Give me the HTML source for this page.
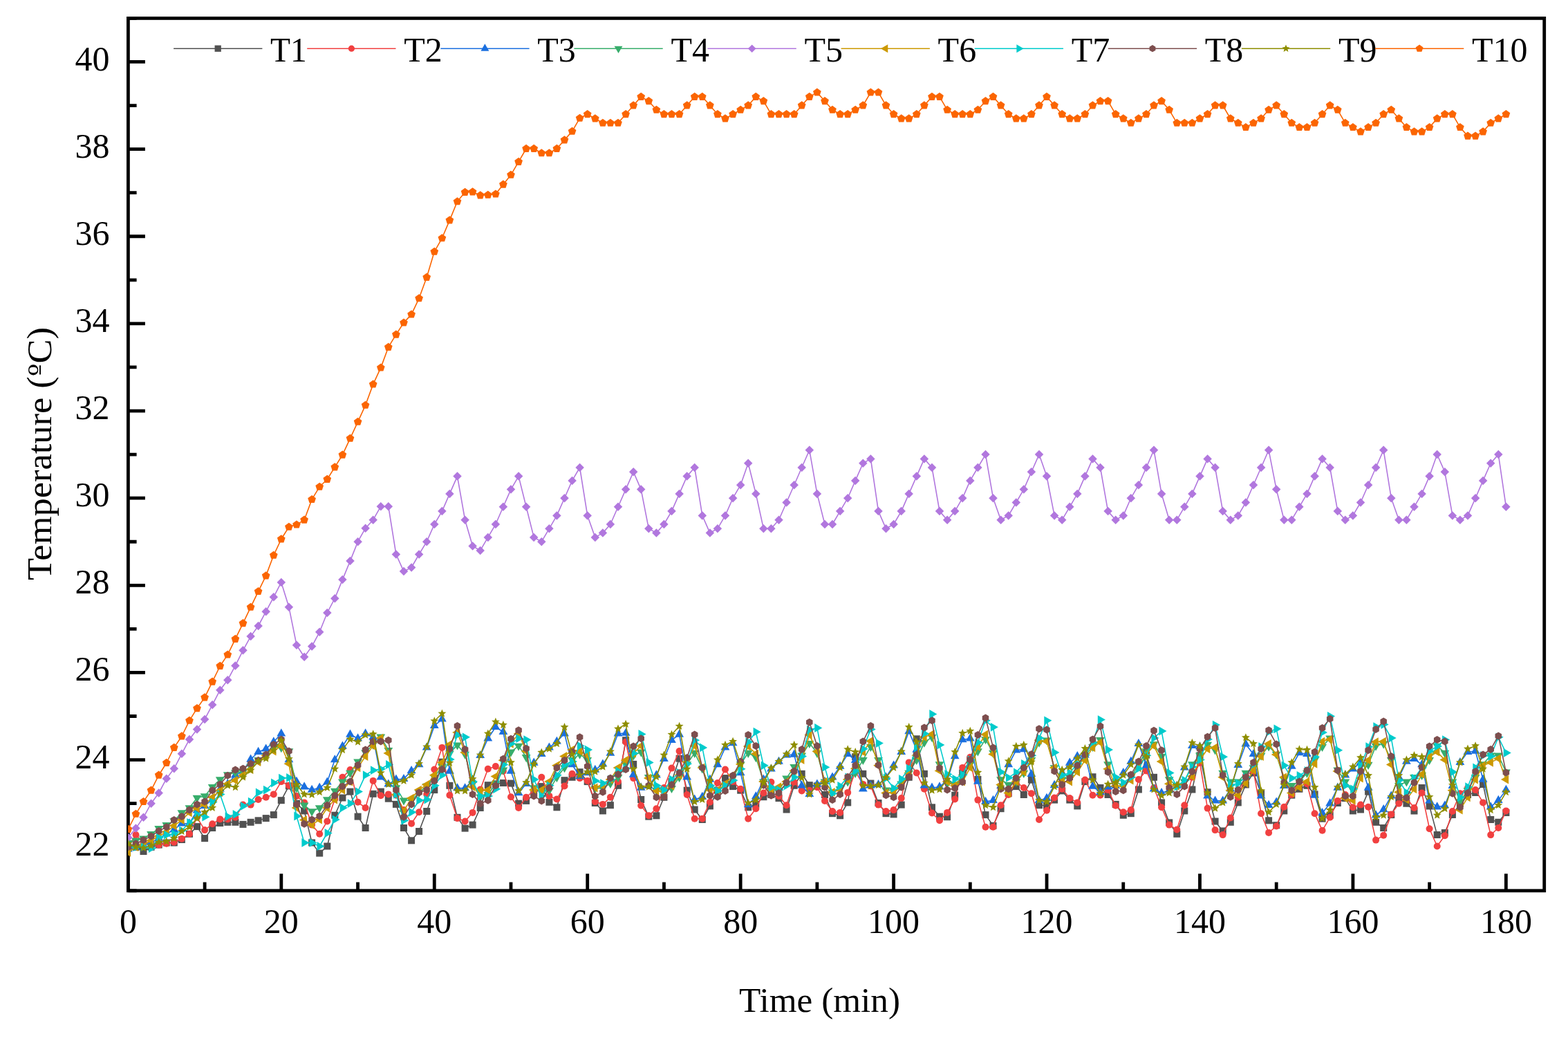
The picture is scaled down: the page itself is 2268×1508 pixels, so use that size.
<!DOCTYPE html>
<html><head><meta charset="utf-8"><title>Temperature chart</title>
<style>html,body{margin:0;padding:0;background:#fff;}svg{display:block;}</style>
</head><body>
<svg width="2268" height="1508" viewBox="0 0 2268 1508">
<defs>
<path id="m0" d="M-5.00,-5.00h10.00v10.00h-10.00z"/>
<path id="lm0" d="M-4.65,-4.65h9.30v9.30h-9.30z"/>
<path id="m1" d="M-5.00,0a5.00,5.00 0 1,0 10.00,0a5.00,5.00 0 1,0 -10.00,0z"/>
<path id="lm1" d="M-4.65,0a4.65,4.65 0 1,0 9.30,0a4.65,4.65 0 1,0 -9.30,0z"/>
<path id="m2" d="M0.00,-7.40L6.41,3.70L-6.41,3.70z"/>
<path id="lm2" d="M0.00,-6.88L5.96,3.44L-5.96,3.44z"/>
<path id="m3" d="M0.00,7.40L-6.41,-3.70L6.41,-3.70z"/>
<path id="lm3" d="M0.00,6.88L-5.96,-3.44L5.96,-3.44z"/>
<path id="m4" d="M0,-6.25L6.25,0L0,6.25L-6.25,0z"/>
<path id="lm4" d="M0,-5.81L5.81,0L0,5.81L-5.81,0z"/>
<path id="m5" d="M-7.40,0.00L3.70,-6.41L3.70,6.41z"/>
<path id="lm5" d="M-6.88,0.00L3.44,-5.96L3.44,5.96z"/>
<path id="m6" d="M7.40,0.00L-3.70,6.41L-3.70,-6.41z"/>
<path id="lm6" d="M6.88,0.00L-3.44,5.96L-3.44,-5.96z"/>
<path id="m7" d="M0.00,-5.50L4.76,-2.75L4.76,2.75L0.00,5.50L-4.76,2.75L-4.76,-2.75z"/>
<path id="lm7" d="M0.00,-5.12L4.43,-2.56L4.43,2.56L0.00,5.12L-4.43,2.56L-4.43,-2.56z"/>
<path id="m8" d="M0.00,-6.25L1.65,-2.28L5.94,-1.93L2.67,0.87L3.67,5.06L0.00,2.81L-3.67,5.06L-2.67,0.87L-5.94,-1.93L-1.65,-2.28z"/>
<path id="lm8" d="M0.00,-5.81L1.54,-2.12L5.53,-1.80L2.49,0.81L3.42,4.70L0.00,2.62L-3.42,4.70L-2.49,0.81L-5.53,-1.80L-1.54,-2.12z"/>
<path id="m9" d="M0.00,-6.15L5.85,-1.90L3.61,4.98L-3.61,4.98L-5.85,-1.90z"/>
<path id="lm9" d="M0.00,-5.72L5.44,-1.77L3.36,4.63L-3.36,4.63L-5.44,-1.77z"/>
</defs>
<rect width="100%" height="100%" fill="#fff"/>
<rect x="185.40" y="26.40" width="2048.32" height="1261.40" fill="none" stroke="#000" stroke-width="4.8"/>
<path d="M185.40,1287.80h12.2 M185.40,1224.73h24.5 M185.40,1161.66h12.2 M185.40,1098.59h24.5 M185.40,1035.52h12.2 M185.40,972.45h24.5 M185.40,909.38h12.2 M185.40,846.31h24.5 M185.40,783.24h12.2 M185.40,720.17h24.5 M185.40,657.10h12.2 M185.40,594.03h24.5 M185.40,530.96h12.2 M185.40,467.89h24.5 M185.40,404.82h12.2 M185.40,341.75h24.5 M185.40,278.68h12.2 M185.40,215.61h24.5 M185.40,152.54h12.2 M185.40,89.47h24.5 M185.40,26.40h12.2 M185.40,1287.80v-24.5 M296.12,1287.80v-12.2 M406.84,1287.80v-24.5 M517.56,1287.80v-12.2 M628.28,1287.80v-24.5 M739.00,1287.80v-12.2 M849.72,1287.80v-24.5 M960.44,1287.80v-12.2 M1071.16,1287.80v-24.5 M1181.88,1287.80v-12.2 M1292.60,1287.80v-24.5 M1403.32,1287.80v-12.2 M1514.04,1287.80v-24.5 M1624.76,1287.80v-12.2 M1735.48,1287.80v-24.5 M1846.20,1287.80v-12.2 M1956.92,1287.80v-24.5 M2067.64,1287.80v-12.2 M2178.36,1287.80v-24.5" stroke="#000" stroke-width="4.8" fill="none"/>
<clipPath id="pa"><rect x="185.2" y="26.4" width="2048.4" height="1261.4"/></clipPath><g clip-path="url(#pa)">
<path d="M185.4,1224.7 196.5,1224.7 207.5,1231.0 218.6,1224.7 229.7,1221.6 240.8,1218.4 251.8,1218.4 262.9,1214.0 274.0,1205.8 285.0,1195.1 296.1,1212.1 307.2,1197.0 318.3,1190.0 329.3,1188.8 340.4,1188.8 351.5,1191.9 362.6,1188.8 373.6,1186.3 384.7,1183.1 395.8,1178.1 406.8,1157.2 417.9,1136.4 429.0,1161.7 440.1,1172.4 451.1,1218.4 462.2,1233.6 473.3,1223.5 484.3,1178.7 495.4,1153.5 506.5,1144.6 517.6,1180.6 528.6,1197.0 539.7,1147.8 550.8,1144.6 561.8,1154.7 572.9,1162.9 584.0,1197.0 595.1,1215.3 606.1,1202.0 617.2,1173.0 628.3,1142.1 639.4,1101.7 650.4,1135.8 661.5,1181.8 672.6,1197.6 683.6,1192.6 694.7,1168.0 705.8,1135.2 716.9,1133.3 727.9,1132.0 739.0,1132.6 750.1,1161.7 761.1,1157.9 772.2,1149.0 783.3,1137.1 794.4,1159.8 805.4,1167.3 816.5,1128.2 827.6,1123.8 838.6,1116.2 849.7,1130.1 860.8,1161.0 871.9,1172.4 882.9,1164.2 894.0,1135.8 905.1,1070.2 916.2,1104.9 927.2,1156.0 938.3,1180.6 949.4,1179.3 960.4,1152.8 971.5,1130.1 982.6,1096.7 993.7,1142.7 1004.7,1170.5 1015.8,1185.0 1026.9,1165.4 1037.9,1142.7 1049.0,1125.1 1060.1,1137.1 1071.2,1142.7 1082.2,1167.3 1093.3,1162.9 1104.4,1152.2 1115.4,1149.0 1126.5,1154.1 1137.6,1170.5 1148.7,1135.8 1159.7,1118.8 1170.8,1135.2 1181.9,1136.4 1193.0,1149.0 1204.0,1176.2 1215.1,1179.3 1226.2,1160.4 1237.2,1094.2 1248.3,1118.8 1259.4,1132.6 1270.5,1161.0 1281.5,1176.2 1292.6,1177.4 1303.7,1163.6 1314.7,1123.8 1325.8,1068.3 1336.9,1118.8 1348.0,1167.3 1359.0,1180.6 1370.1,1181.2 1381.2,1149.7 1392.2,1117.5 1403.3,1098.6 1414.4,1127.0 1425.5,1178.1 1436.5,1193.8 1447.6,1169.2 1458.7,1147.2 1469.8,1137.1 1480.8,1149.0 1491.9,1127.6 1503.0,1164.2 1514.0,1164.8 1525.1,1156.6 1536.2,1143.4 1547.3,1156.6 1558.3,1165.4 1569.4,1130.1 1580.5,1123.2 1591.5,1139.0 1602.6,1149.0 1613.7,1162.9 1624.8,1178.7 1635.8,1176.2 1646.9,1141.5 1658.0,1091.7 1669.0,1123.8 1680.1,1160.4 1691.2,1189.4 1702.3,1205.8 1713.3,1172.4 1724.4,1141.5 1735.5,1092.3 1746.6,1145.3 1757.6,1187.5 1768.7,1201.4 1779.8,1188.8 1790.8,1160.4 1801.9,1134.5 1813.0,1117.5 1824.1,1147.2 1835.1,1186.3 1846.2,1193.2 1857.3,1172.4 1868.3,1149.7 1879.4,1140.8 1890.5,1135.8 1901.6,1148.4 1912.6,1183.7 1923.7,1178.7 1934.8,1161.0 1945.8,1154.1 1956.9,1172.4 1968.0,1170.5 1979.1,1144.6 1990.1,1188.8 2001.2,1197.0 2012.3,1178.1 2023.4,1156.6 2034.4,1161.7 2045.5,1172.4 2056.6,1139.0 2067.6,1165.4 2078.7,1207.1 2089.8,1203.9 2100.9,1178.1 2111.9,1161.7 2123.0,1149.0 2134.1,1145.9 2145.1,1133.9 2156.2,1185.0 2167.3,1188.8 2178.4,1174.9" fill="none" stroke="#515151" stroke-width="1.6" stroke-linejoin="round"/>
<g fill="#515151">
<use href="#m0" x="185.4" y="1224.7"/>
<use href="#m0" x="196.5" y="1224.7"/>
<use href="#m0" x="207.5" y="1231.0"/>
<use href="#m0" x="218.6" y="1224.7"/>
<use href="#m0" x="229.7" y="1221.6"/>
<use href="#m0" x="240.8" y="1218.4"/>
<use href="#m0" x="251.8" y="1218.4"/>
<use href="#m0" x="262.9" y="1214.0"/>
<use href="#m0" x="274.0" y="1205.8"/>
<use href="#m0" x="285.0" y="1195.1"/>
<use href="#m0" x="296.1" y="1212.1"/>
<use href="#m0" x="307.2" y="1197.0"/>
<use href="#m0" x="318.3" y="1190.0"/>
<use href="#m0" x="329.3" y="1188.8"/>
<use href="#m0" x="340.4" y="1188.8"/>
<use href="#m0" x="351.5" y="1191.9"/>
<use href="#m0" x="362.6" y="1188.8"/>
<use href="#m0" x="373.6" y="1186.3"/>
<use href="#m0" x="384.7" y="1183.1"/>
<use href="#m0" x="395.8" y="1178.1"/>
<use href="#m0" x="406.8" y="1157.2"/>
<use href="#m0" x="417.9" y="1136.4"/>
<use href="#m0" x="429.0" y="1161.7"/>
<use href="#m0" x="440.1" y="1172.4"/>
<use href="#m0" x="451.1" y="1218.4"/>
<use href="#m0" x="462.2" y="1233.6"/>
<use href="#m0" x="473.3" y="1223.5"/>
<use href="#m0" x="484.3" y="1178.7"/>
<use href="#m0" x="495.4" y="1153.5"/>
<use href="#m0" x="506.5" y="1144.6"/>
<use href="#m0" x="517.6" y="1180.6"/>
<use href="#m0" x="528.6" y="1197.0"/>
<use href="#m0" x="539.7" y="1147.8"/>
<use href="#m0" x="550.8" y="1144.6"/>
<use href="#m0" x="561.8" y="1154.7"/>
<use href="#m0" x="572.9" y="1162.9"/>
<use href="#m0" x="584.0" y="1197.0"/>
<use href="#m0" x="595.1" y="1215.3"/>
<use href="#m0" x="606.1" y="1202.0"/>
<use href="#m0" x="617.2" y="1173.0"/>
<use href="#m0" x="628.3" y="1142.1"/>
<use href="#m0" x="639.4" y="1101.7"/>
<use href="#m0" x="650.4" y="1135.8"/>
<use href="#m0" x="661.5" y="1181.8"/>
<use href="#m0" x="672.6" y="1197.6"/>
<use href="#m0" x="683.6" y="1192.6"/>
<use href="#m0" x="694.7" y="1168.0"/>
<use href="#m0" x="705.8" y="1135.2"/>
<use href="#m0" x="716.9" y="1133.3"/>
<use href="#m0" x="727.9" y="1132.0"/>
<use href="#m0" x="739.0" y="1132.6"/>
<use href="#m0" x="750.1" y="1161.7"/>
<use href="#m0" x="761.1" y="1157.9"/>
<use href="#m0" x="772.2" y="1149.0"/>
<use href="#m0" x="783.3" y="1137.1"/>
<use href="#m0" x="794.4" y="1159.8"/>
<use href="#m0" x="805.4" y="1167.3"/>
<use href="#m0" x="816.5" y="1128.2"/>
<use href="#m0" x="827.6" y="1123.8"/>
<use href="#m0" x="838.6" y="1116.2"/>
<use href="#m0" x="849.7" y="1130.1"/>
<use href="#m0" x="860.8" y="1161.0"/>
<use href="#m0" x="871.9" y="1172.4"/>
<use href="#m0" x="882.9" y="1164.2"/>
<use href="#m0" x="894.0" y="1135.8"/>
<use href="#m0" x="905.1" y="1070.2"/>
<use href="#m0" x="916.2" y="1104.9"/>
<use href="#m0" x="927.2" y="1156.0"/>
<use href="#m0" x="938.3" y="1180.6"/>
<use href="#m0" x="949.4" y="1179.3"/>
<use href="#m0" x="960.4" y="1152.8"/>
<use href="#m0" x="971.5" y="1130.1"/>
<use href="#m0" x="982.6" y="1096.7"/>
<use href="#m0" x="993.7" y="1142.7"/>
<use href="#m0" x="1004.7" y="1170.5"/>
<use href="#m0" x="1015.8" y="1185.0"/>
<use href="#m0" x="1026.9" y="1165.4"/>
<use href="#m0" x="1037.9" y="1142.7"/>
<use href="#m0" x="1049.0" y="1125.1"/>
<use href="#m0" x="1060.1" y="1137.1"/>
<use href="#m0" x="1071.2" y="1142.7"/>
<use href="#m0" x="1082.2" y="1167.3"/>
<use href="#m0" x="1093.3" y="1162.9"/>
<use href="#m0" x="1104.4" y="1152.2"/>
<use href="#m0" x="1115.4" y="1149.0"/>
<use href="#m0" x="1126.5" y="1154.1"/>
<use href="#m0" x="1137.6" y="1170.5"/>
<use href="#m0" x="1148.7" y="1135.8"/>
<use href="#m0" x="1159.7" y="1118.8"/>
<use href="#m0" x="1170.8" y="1135.2"/>
<use href="#m0" x="1181.9" y="1136.4"/>
<use href="#m0" x="1193.0" y="1149.0"/>
<use href="#m0" x="1204.0" y="1176.2"/>
<use href="#m0" x="1215.1" y="1179.3"/>
<use href="#m0" x="1226.2" y="1160.4"/>
<use href="#m0" x="1237.2" y="1094.2"/>
<use href="#m0" x="1248.3" y="1118.8"/>
<use href="#m0" x="1259.4" y="1132.6"/>
<use href="#m0" x="1270.5" y="1161.0"/>
<use href="#m0" x="1281.5" y="1176.2"/>
<use href="#m0" x="1292.6" y="1177.4"/>
<use href="#m0" x="1303.7" y="1163.6"/>
<use href="#m0" x="1314.7" y="1123.8"/>
<use href="#m0" x="1325.8" y="1068.3"/>
<use href="#m0" x="1336.9" y="1118.8"/>
<use href="#m0" x="1348.0" y="1167.3"/>
<use href="#m0" x="1359.0" y="1180.6"/>
<use href="#m0" x="1370.1" y="1181.2"/>
<use href="#m0" x="1381.2" y="1149.7"/>
<use href="#m0" x="1392.2" y="1117.5"/>
<use href="#m0" x="1403.3" y="1098.6"/>
<use href="#m0" x="1414.4" y="1127.0"/>
<use href="#m0" x="1425.5" y="1178.1"/>
<use href="#m0" x="1436.5" y="1193.8"/>
<use href="#m0" x="1447.6" y="1169.2"/>
<use href="#m0" x="1458.7" y="1147.2"/>
<use href="#m0" x="1469.8" y="1137.1"/>
<use href="#m0" x="1480.8" y="1149.0"/>
<use href="#m0" x="1491.9" y="1127.6"/>
<use href="#m0" x="1503.0" y="1164.2"/>
<use href="#m0" x="1514.0" y="1164.8"/>
<use href="#m0" x="1525.1" y="1156.6"/>
<use href="#m0" x="1536.2" y="1143.4"/>
<use href="#m0" x="1547.3" y="1156.6"/>
<use href="#m0" x="1558.3" y="1165.4"/>
<use href="#m0" x="1569.4" y="1130.1"/>
<use href="#m0" x="1580.5" y="1123.2"/>
<use href="#m0" x="1591.5" y="1139.0"/>
<use href="#m0" x="1602.6" y="1149.0"/>
<use href="#m0" x="1613.7" y="1162.9"/>
<use href="#m0" x="1624.8" y="1178.7"/>
<use href="#m0" x="1635.8" y="1176.2"/>
<use href="#m0" x="1646.9" y="1141.5"/>
<use href="#m0" x="1658.0" y="1091.7"/>
<use href="#m0" x="1669.0" y="1123.8"/>
<use href="#m0" x="1680.1" y="1160.4"/>
<use href="#m0" x="1691.2" y="1189.4"/>
<use href="#m0" x="1702.3" y="1205.8"/>
<use href="#m0" x="1713.3" y="1172.4"/>
<use href="#m0" x="1724.4" y="1141.5"/>
<use href="#m0" x="1735.5" y="1092.3"/>
<use href="#m0" x="1746.6" y="1145.3"/>
<use href="#m0" x="1757.6" y="1187.5"/>
<use href="#m0" x="1768.7" y="1201.4"/>
<use href="#m0" x="1779.8" y="1188.8"/>
<use href="#m0" x="1790.8" y="1160.4"/>
<use href="#m0" x="1801.9" y="1134.5"/>
<use href="#m0" x="1813.0" y="1117.5"/>
<use href="#m0" x="1824.1" y="1147.2"/>
<use href="#m0" x="1835.1" y="1186.3"/>
<use href="#m0" x="1846.2" y="1193.2"/>
<use href="#m0" x="1857.3" y="1172.4"/>
<use href="#m0" x="1868.3" y="1149.7"/>
<use href="#m0" x="1879.4" y="1140.8"/>
<use href="#m0" x="1890.5" y="1135.8"/>
<use href="#m0" x="1901.6" y="1148.4"/>
<use href="#m0" x="1912.6" y="1183.7"/>
<use href="#m0" x="1923.7" y="1178.7"/>
<use href="#m0" x="1934.8" y="1161.0"/>
<use href="#m0" x="1945.8" y="1154.1"/>
<use href="#m0" x="1956.9" y="1172.4"/>
<use href="#m0" x="1968.0" y="1170.5"/>
<use href="#m0" x="1979.1" y="1144.6"/>
<use href="#m0" x="1990.1" y="1188.8"/>
<use href="#m0" x="2001.2" y="1197.0"/>
<use href="#m0" x="2012.3" y="1178.1"/>
<use href="#m0" x="2023.4" y="1156.6"/>
<use href="#m0" x="2034.4" y="1161.7"/>
<use href="#m0" x="2045.5" y="1172.4"/>
<use href="#m0" x="2056.6" y="1139.0"/>
<use href="#m0" x="2067.6" y="1165.4"/>
<use href="#m0" x="2078.7" y="1207.1"/>
<use href="#m0" x="2089.8" y="1203.9"/>
<use href="#m0" x="2100.9" y="1178.1"/>
<use href="#m0" x="2111.9" y="1161.7"/>
<use href="#m0" x="2123.0" y="1149.0"/>
<use href="#m0" x="2134.1" y="1145.9"/>
<use href="#m0" x="2145.1" y="1133.9"/>
<use href="#m0" x="2156.2" y="1185.0"/>
<use href="#m0" x="2167.3" y="1188.8"/>
<use href="#m0" x="2178.4" y="1174.9"/>
</g>
<path d="M185.4,1224.7 196.5,1207.1 207.5,1218.4 218.6,1218.4 229.7,1221.6 240.8,1219.7 251.8,1217.8 262.9,1212.7 274.0,1205.8 285.0,1181.8 296.1,1200.1 307.2,1191.3 318.3,1184.4 329.3,1184.4 340.4,1181.8 351.5,1163.6 362.6,1163.6 373.6,1156.0 384.7,1152.8 395.8,1148.4 406.8,1130.1 417.9,1135.8 429.0,1150.9 440.1,1160.4 451.1,1192.6 462.2,1205.8 473.3,1187.5 484.3,1155.4 495.4,1123.8 506.5,1113.1 517.6,1159.8 528.6,1168.0 539.7,1128.9 550.8,1150.3 561.8,1148.4 572.9,1149.7 584.0,1171.1 595.1,1190.7 606.1,1174.3 617.2,1148.4 628.3,1112.5 639.4,1080.9 650.4,1149.7 661.5,1183.1 672.6,1187.5 683.6,1174.9 694.7,1141.5 705.8,1111.8 716.9,1108.1 727.9,1115.0 739.0,1152.2 750.1,1168.0 761.1,1152.8 772.2,1142.7 783.3,1123.8 794.4,1150.9 805.4,1155.4 816.5,1136.4 827.6,1118.8 838.6,1125.1 849.7,1128.9 860.8,1159.1 871.9,1162.9 882.9,1152.8 894.0,1130.1 905.1,1072.7 916.2,1125.1 927.2,1164.8 938.3,1179.3 949.4,1169.2 960.4,1139.0 971.5,1110.6 982.6,1086.0 993.7,1149.0 1004.7,1183.7 1015.8,1183.7 1026.9,1159.8 1037.9,1132.0 1049.0,1112.5 1060.1,1130.1 1071.2,1140.8 1082.2,1183.7 1093.3,1169.2 1104.4,1146.5 1115.4,1130.8 1126.5,1150.9 1137.6,1164.2 1148.7,1130.8 1159.7,1143.4 1170.8,1142.7 1181.9,1138.3 1193.0,1157.9 1204.0,1173.0 1215.1,1174.9 1226.2,1145.9 1237.2,1115.6 1248.3,1133.9 1259.4,1136.4 1270.5,1163.6 1281.5,1173.0 1292.6,1171.1 1303.7,1154.1 1314.7,1102.4 1325.8,1117.5 1336.9,1140.8 1348.0,1175.5 1359.0,1186.3 1370.1,1174.9 1381.2,1155.4 1392.2,1109.9 1403.3,1094.8 1414.4,1156.6 1425.5,1195.7 1436.5,1195.7 1447.6,1164.2 1458.7,1149.0 1469.8,1130.1 1480.8,1139.0 1491.9,1147.2 1503.0,1185.0 1514.0,1171.8 1525.1,1153.5 1536.2,1140.8 1547.3,1154.1 1558.3,1160.4 1569.4,1127.6 1580.5,1149.7 1591.5,1149.7 1602.6,1142.1 1613.7,1164.8 1624.8,1174.3 1635.8,1171.1 1646.9,1127.0 1658.0,1114.4 1669.0,1139.0 1680.1,1167.3 1691.2,1192.6 1702.3,1199.5 1713.3,1164.2 1724.4,1123.8 1735.5,1103.0 1746.6,1168.6 1757.6,1200.1 1768.7,1207.1 1779.8,1182.5 1790.8,1152.8 1801.9,1121.3 1813.0,1114.4 1824.1,1176.2 1835.1,1203.9 1846.2,1194.5 1857.3,1166.7 1868.3,1149.0 1879.4,1130.1 1890.5,1133.3 1901.6,1176.2 1912.6,1200.8 1923.7,1181.8 1934.8,1157.9 1945.8,1149.0 1956.9,1167.3 1968.0,1163.6 1979.1,1166.7 1990.1,1214.6 2001.2,1207.7 2012.3,1177.4 2023.4,1161.7 2034.4,1154.1 2045.5,1168.0 2056.6,1146.5 2067.6,1198.2 2078.7,1223.5 2089.8,1208.3 2100.9,1173.0 2111.9,1147.2 2123.0,1139.0 2134.1,1142.1 2145.1,1160.4 2156.2,1207.1 2167.3,1197.0 2178.4,1172.4" fill="none" stroke="#F14040" stroke-width="1.6" stroke-linejoin="round"/>
<g fill="#F14040">
<use href="#m1" x="185.4" y="1224.7"/>
<use href="#m1" x="196.5" y="1207.1"/>
<use href="#m1" x="207.5" y="1218.4"/>
<use href="#m1" x="218.6" y="1218.4"/>
<use href="#m1" x="229.7" y="1221.6"/>
<use href="#m1" x="240.8" y="1219.7"/>
<use href="#m1" x="251.8" y="1217.8"/>
<use href="#m1" x="262.9" y="1212.7"/>
<use href="#m1" x="274.0" y="1205.8"/>
<use href="#m1" x="285.0" y="1181.8"/>
<use href="#m1" x="296.1" y="1200.1"/>
<use href="#m1" x="307.2" y="1191.3"/>
<use href="#m1" x="318.3" y="1184.4"/>
<use href="#m1" x="329.3" y="1184.4"/>
<use href="#m1" x="340.4" y="1181.8"/>
<use href="#m1" x="351.5" y="1163.6"/>
<use href="#m1" x="362.6" y="1163.6"/>
<use href="#m1" x="373.6" y="1156.0"/>
<use href="#m1" x="384.7" y="1152.8"/>
<use href="#m1" x="395.8" y="1148.4"/>
<use href="#m1" x="406.8" y="1130.1"/>
<use href="#m1" x="417.9" y="1135.8"/>
<use href="#m1" x="429.0" y="1150.9"/>
<use href="#m1" x="440.1" y="1160.4"/>
<use href="#m1" x="451.1" y="1192.6"/>
<use href="#m1" x="462.2" y="1205.8"/>
<use href="#m1" x="473.3" y="1187.5"/>
<use href="#m1" x="484.3" y="1155.4"/>
<use href="#m1" x="495.4" y="1123.8"/>
<use href="#m1" x="506.5" y="1113.1"/>
<use href="#m1" x="517.6" y="1159.8"/>
<use href="#m1" x="528.6" y="1168.0"/>
<use href="#m1" x="539.7" y="1128.9"/>
<use href="#m1" x="550.8" y="1150.3"/>
<use href="#m1" x="561.8" y="1148.4"/>
<use href="#m1" x="572.9" y="1149.7"/>
<use href="#m1" x="584.0" y="1171.1"/>
<use href="#m1" x="595.1" y="1190.7"/>
<use href="#m1" x="606.1" y="1174.3"/>
<use href="#m1" x="617.2" y="1148.4"/>
<use href="#m1" x="628.3" y="1112.5"/>
<use href="#m1" x="639.4" y="1080.9"/>
<use href="#m1" x="650.4" y="1149.7"/>
<use href="#m1" x="661.5" y="1183.1"/>
<use href="#m1" x="672.6" y="1187.5"/>
<use href="#m1" x="683.6" y="1174.9"/>
<use href="#m1" x="694.7" y="1141.5"/>
<use href="#m1" x="705.8" y="1111.8"/>
<use href="#m1" x="716.9" y="1108.1"/>
<use href="#m1" x="727.9" y="1115.0"/>
<use href="#m1" x="739.0" y="1152.2"/>
<use href="#m1" x="750.1" y="1168.0"/>
<use href="#m1" x="761.1" y="1152.8"/>
<use href="#m1" x="772.2" y="1142.7"/>
<use href="#m1" x="783.3" y="1123.8"/>
<use href="#m1" x="794.4" y="1150.9"/>
<use href="#m1" x="805.4" y="1155.4"/>
<use href="#m1" x="816.5" y="1136.4"/>
<use href="#m1" x="827.6" y="1118.8"/>
<use href="#m1" x="838.6" y="1125.1"/>
<use href="#m1" x="849.7" y="1128.9"/>
<use href="#m1" x="860.8" y="1159.1"/>
<use href="#m1" x="871.9" y="1162.9"/>
<use href="#m1" x="882.9" y="1152.8"/>
<use href="#m1" x="894.0" y="1130.1"/>
<use href="#m1" x="905.1" y="1072.7"/>
<use href="#m1" x="916.2" y="1125.1"/>
<use href="#m1" x="927.2" y="1164.8"/>
<use href="#m1" x="938.3" y="1179.3"/>
<use href="#m1" x="949.4" y="1169.2"/>
<use href="#m1" x="960.4" y="1139.0"/>
<use href="#m1" x="971.5" y="1110.6"/>
<use href="#m1" x="982.6" y="1086.0"/>
<use href="#m1" x="993.7" y="1149.0"/>
<use href="#m1" x="1004.7" y="1183.7"/>
<use href="#m1" x="1015.8" y="1183.7"/>
<use href="#m1" x="1026.9" y="1159.8"/>
<use href="#m1" x="1037.9" y="1132.0"/>
<use href="#m1" x="1049.0" y="1112.5"/>
<use href="#m1" x="1060.1" y="1130.1"/>
<use href="#m1" x="1071.2" y="1140.8"/>
<use href="#m1" x="1082.2" y="1183.7"/>
<use href="#m1" x="1093.3" y="1169.2"/>
<use href="#m1" x="1104.4" y="1146.5"/>
<use href="#m1" x="1115.4" y="1130.8"/>
<use href="#m1" x="1126.5" y="1150.9"/>
<use href="#m1" x="1137.6" y="1164.2"/>
<use href="#m1" x="1148.7" y="1130.8"/>
<use href="#m1" x="1159.7" y="1143.4"/>
<use href="#m1" x="1170.8" y="1142.7"/>
<use href="#m1" x="1181.9" y="1138.3"/>
<use href="#m1" x="1193.0" y="1157.9"/>
<use href="#m1" x="1204.0" y="1173.0"/>
<use href="#m1" x="1215.1" y="1174.9"/>
<use href="#m1" x="1226.2" y="1145.9"/>
<use href="#m1" x="1237.2" y="1115.6"/>
<use href="#m1" x="1248.3" y="1133.9"/>
<use href="#m1" x="1259.4" y="1136.4"/>
<use href="#m1" x="1270.5" y="1163.6"/>
<use href="#m1" x="1281.5" y="1173.0"/>
<use href="#m1" x="1292.6" y="1171.1"/>
<use href="#m1" x="1303.7" y="1154.1"/>
<use href="#m1" x="1314.7" y="1102.4"/>
<use href="#m1" x="1325.8" y="1117.5"/>
<use href="#m1" x="1336.9" y="1140.8"/>
<use href="#m1" x="1348.0" y="1175.5"/>
<use href="#m1" x="1359.0" y="1186.3"/>
<use href="#m1" x="1370.1" y="1174.9"/>
<use href="#m1" x="1381.2" y="1155.4"/>
<use href="#m1" x="1392.2" y="1109.9"/>
<use href="#m1" x="1403.3" y="1094.8"/>
<use href="#m1" x="1414.4" y="1156.6"/>
<use href="#m1" x="1425.5" y="1195.7"/>
<use href="#m1" x="1436.5" y="1195.7"/>
<use href="#m1" x="1447.6" y="1164.2"/>
<use href="#m1" x="1458.7" y="1149.0"/>
<use href="#m1" x="1469.8" y="1130.1"/>
<use href="#m1" x="1480.8" y="1139.0"/>
<use href="#m1" x="1491.9" y="1147.2"/>
<use href="#m1" x="1503.0" y="1185.0"/>
<use href="#m1" x="1514.0" y="1171.8"/>
<use href="#m1" x="1525.1" y="1153.5"/>
<use href="#m1" x="1536.2" y="1140.8"/>
<use href="#m1" x="1547.3" y="1154.1"/>
<use href="#m1" x="1558.3" y="1160.4"/>
<use href="#m1" x="1569.4" y="1127.6"/>
<use href="#m1" x="1580.5" y="1149.7"/>
<use href="#m1" x="1591.5" y="1149.7"/>
<use href="#m1" x="1602.6" y="1142.1"/>
<use href="#m1" x="1613.7" y="1164.8"/>
<use href="#m1" x="1624.8" y="1174.3"/>
<use href="#m1" x="1635.8" y="1171.1"/>
<use href="#m1" x="1646.9" y="1127.0"/>
<use href="#m1" x="1658.0" y="1114.4"/>
<use href="#m1" x="1669.0" y="1139.0"/>
<use href="#m1" x="1680.1" y="1167.3"/>
<use href="#m1" x="1691.2" y="1192.6"/>
<use href="#m1" x="1702.3" y="1199.5"/>
<use href="#m1" x="1713.3" y="1164.2"/>
<use href="#m1" x="1724.4" y="1123.8"/>
<use href="#m1" x="1735.5" y="1103.0"/>
<use href="#m1" x="1746.6" y="1168.6"/>
<use href="#m1" x="1757.6" y="1200.1"/>
<use href="#m1" x="1768.7" y="1207.1"/>
<use href="#m1" x="1779.8" y="1182.5"/>
<use href="#m1" x="1790.8" y="1152.8"/>
<use href="#m1" x="1801.9" y="1121.3"/>
<use href="#m1" x="1813.0" y="1114.4"/>
<use href="#m1" x="1824.1" y="1176.2"/>
<use href="#m1" x="1835.1" y="1203.9"/>
<use href="#m1" x="1846.2" y="1194.5"/>
<use href="#m1" x="1857.3" y="1166.7"/>
<use href="#m1" x="1868.3" y="1149.0"/>
<use href="#m1" x="1879.4" y="1130.1"/>
<use href="#m1" x="1890.5" y="1133.3"/>
<use href="#m1" x="1901.6" y="1176.2"/>
<use href="#m1" x="1912.6" y="1200.8"/>
<use href="#m1" x="1923.7" y="1181.8"/>
<use href="#m1" x="1934.8" y="1157.9"/>
<use href="#m1" x="1945.8" y="1149.0"/>
<use href="#m1" x="1956.9" y="1167.3"/>
<use href="#m1" x="1968.0" y="1163.6"/>
<use href="#m1" x="1979.1" y="1166.7"/>
<use href="#m1" x="1990.1" y="1214.6"/>
<use href="#m1" x="2001.2" y="1207.7"/>
<use href="#m1" x="2012.3" y="1177.4"/>
<use href="#m1" x="2023.4" y="1161.7"/>
<use href="#m1" x="2034.4" y="1154.1"/>
<use href="#m1" x="2045.5" y="1168.0"/>
<use href="#m1" x="2056.6" y="1146.5"/>
<use href="#m1" x="2067.6" y="1198.2"/>
<use href="#m1" x="2078.7" y="1223.5"/>
<use href="#m1" x="2089.8" y="1208.3"/>
<use href="#m1" x="2100.9" y="1173.0"/>
<use href="#m1" x="2111.9" y="1147.2"/>
<use href="#m1" x="2123.0" y="1139.0"/>
<use href="#m1" x="2134.1" y="1142.1"/>
<use href="#m1" x="2145.1" y="1160.4"/>
<use href="#m1" x="2156.2" y="1207.1"/>
<use href="#m1" x="2167.3" y="1197.0"/>
<use href="#m1" x="2178.4" y="1172.4"/>
</g>
<path d="M185.4,1227.9 196.5,1224.7 207.5,1221.6 218.6,1218.4 229.7,1212.1 240.8,1205.8 251.8,1199.5 262.9,1190.7 274.0,1190.7 285.0,1171.8 296.1,1165.4 307.2,1155.4 318.3,1140.8 329.3,1133.3 340.4,1120.7 351.5,1115.0 362.6,1098.0 373.6,1087.2 384.7,1082.8 395.8,1072.7 406.8,1060.7 417.9,1098.6 429.0,1130.1 440.1,1137.7 451.1,1142.1 462.2,1139.0 473.3,1130.8 484.3,1098.6 495.4,1079.0 506.5,1062.0 517.6,1067.7 528.6,1060.7 539.7,1065.8 550.8,1123.8 561.8,1133.9 572.9,1127.0 584.0,1126.3 595.1,1114.4 606.1,1105.5 617.2,1080.9 628.3,1049.4 639.4,1039.9 650.4,1115.0 661.5,1139.6 672.6,1139.6 683.6,1128.2 694.7,1092.3 705.8,1067.7 716.9,1051.3 727.9,1058.2 739.0,1115.0 750.1,1146.5 761.1,1133.3 772.2,1103.0 783.3,1090.4 794.4,1080.9 805.4,1072.1 816.5,1060.7 827.6,1105.5 838.6,1122.6 849.7,1117.5 860.8,1113.1 871.9,1104.9 882.9,1089.1 894.0,1060.7 905.1,1060.1 916.2,1120.0 927.2,1139.0 938.3,1136.4 949.4,1120.7 960.4,1097.3 971.5,1070.2 982.6,1062.0 993.7,1123.8 1004.7,1156.0 1015.8,1152.2 1026.9,1127.0 1037.9,1105.5 1049.0,1080.9 1060.1,1074.6 1071.2,1117.5 1082.2,1163.6 1093.3,1151.6 1104.4,1127.0 1115.4,1111.8 1126.5,1101.1 1137.6,1091.7 1148.7,1091.0 1159.7,1135.8 1170.8,1148.4 1181.9,1133.9 1193.0,1130.1 1204.0,1123.8 1215.1,1108.1 1226.2,1090.4 1237.2,1099.2 1248.3,1140.8 1259.4,1135.8 1270.5,1134.5 1281.5,1123.8 1292.6,1106.8 1303.7,1087.2 1314.7,1057.6 1325.8,1084.1 1336.9,1135.8 1348.0,1139.0 1359.0,1137.7 1370.1,1128.2 1381.2,1093.5 1392.2,1069.6 1403.3,1067.7 1414.4,1130.1 1425.5,1159.1 1436.5,1157.2 1447.6,1136.4 1458.7,1105.5 1469.8,1084.7 1480.8,1083.5 1491.9,1119.4 1503.0,1157.2 1514.0,1154.1 1525.1,1135.2 1536.2,1117.5 1547.3,1103.0 1558.3,1093.5 1569.4,1091.7 1580.5,1137.1 1591.5,1145.3 1602.6,1137.7 1613.7,1136.4 1624.8,1117.5 1635.8,1101.1 1646.9,1075.3 1658.0,1106.8 1669.0,1140.8 1680.1,1146.5 1691.2,1142.7 1702.3,1136.4 1713.3,1109.9 1724.4,1078.4 1735.5,1079.7 1746.6,1150.9 1757.6,1157.9 1768.7,1157.9 1779.8,1140.8 1790.8,1106.2 1801.9,1075.9 1813.0,1090.4 1824.1,1150.9 1835.1,1164.2 1846.2,1159.8 1857.3,1136.4 1868.3,1108.1 1879.4,1088.5 1890.5,1090.4 1901.6,1149.7 1912.6,1175.5 1923.7,1161.7 1934.8,1139.0 1945.8,1120.7 1956.9,1111.8 1968.0,1102.4 1979.1,1139.0 1990.1,1178.7 2001.2,1170.5 2012.3,1150.9 2023.4,1123.8 2034.4,1101.1 2045.5,1097.3 2056.6,1105.5 2067.6,1157.9 2078.7,1166.7 2089.8,1164.8 2100.9,1136.4 2111.9,1102.4 2123.0,1087.2 2134.1,1086.0 2145.1,1127.0 2156.2,1166.7 2167.3,1157.2 2178.4,1142.1" fill="none" stroke="#1A6FDF" stroke-width="1.6" stroke-linejoin="round"/>
<g fill="#1A6FDF">
<use href="#m2" x="185.4" y="1227.9"/>
<use href="#m2" x="196.5" y="1224.7"/>
<use href="#m2" x="207.5" y="1221.6"/>
<use href="#m2" x="218.6" y="1218.4"/>
<use href="#m2" x="229.7" y="1212.1"/>
<use href="#m2" x="240.8" y="1205.8"/>
<use href="#m2" x="251.8" y="1199.5"/>
<use href="#m2" x="262.9" y="1190.7"/>
<use href="#m2" x="274.0" y="1190.7"/>
<use href="#m2" x="285.0" y="1171.8"/>
<use href="#m2" x="296.1" y="1165.4"/>
<use href="#m2" x="307.2" y="1155.4"/>
<use href="#m2" x="318.3" y="1140.8"/>
<use href="#m2" x="329.3" y="1133.3"/>
<use href="#m2" x="340.4" y="1120.7"/>
<use href="#m2" x="351.5" y="1115.0"/>
<use href="#m2" x="362.6" y="1098.0"/>
<use href="#m2" x="373.6" y="1087.2"/>
<use href="#m2" x="384.7" y="1082.8"/>
<use href="#m2" x="395.8" y="1072.7"/>
<use href="#m2" x="406.8" y="1060.7"/>
<use href="#m2" x="417.9" y="1098.6"/>
<use href="#m2" x="429.0" y="1130.1"/>
<use href="#m2" x="440.1" y="1137.7"/>
<use href="#m2" x="451.1" y="1142.1"/>
<use href="#m2" x="462.2" y="1139.0"/>
<use href="#m2" x="473.3" y="1130.8"/>
<use href="#m2" x="484.3" y="1098.6"/>
<use href="#m2" x="495.4" y="1079.0"/>
<use href="#m2" x="506.5" y="1062.0"/>
<use href="#m2" x="517.6" y="1067.7"/>
<use href="#m2" x="528.6" y="1060.7"/>
<use href="#m2" x="539.7" y="1065.8"/>
<use href="#m2" x="550.8" y="1123.8"/>
<use href="#m2" x="561.8" y="1133.9"/>
<use href="#m2" x="572.9" y="1127.0"/>
<use href="#m2" x="584.0" y="1126.3"/>
<use href="#m2" x="595.1" y="1114.4"/>
<use href="#m2" x="606.1" y="1105.5"/>
<use href="#m2" x="617.2" y="1080.9"/>
<use href="#m2" x="628.3" y="1049.4"/>
<use href="#m2" x="639.4" y="1039.9"/>
<use href="#m2" x="650.4" y="1115.0"/>
<use href="#m2" x="661.5" y="1139.6"/>
<use href="#m2" x="672.6" y="1139.6"/>
<use href="#m2" x="683.6" y="1128.2"/>
<use href="#m2" x="694.7" y="1092.3"/>
<use href="#m2" x="705.8" y="1067.7"/>
<use href="#m2" x="716.9" y="1051.3"/>
<use href="#m2" x="727.9" y="1058.2"/>
<use href="#m2" x="739.0" y="1115.0"/>
<use href="#m2" x="750.1" y="1146.5"/>
<use href="#m2" x="761.1" y="1133.3"/>
<use href="#m2" x="772.2" y="1103.0"/>
<use href="#m2" x="783.3" y="1090.4"/>
<use href="#m2" x="794.4" y="1080.9"/>
<use href="#m2" x="805.4" y="1072.1"/>
<use href="#m2" x="816.5" y="1060.7"/>
<use href="#m2" x="827.6" y="1105.5"/>
<use href="#m2" x="838.6" y="1122.6"/>
<use href="#m2" x="849.7" y="1117.5"/>
<use href="#m2" x="860.8" y="1113.1"/>
<use href="#m2" x="871.9" y="1104.9"/>
<use href="#m2" x="882.9" y="1089.1"/>
<use href="#m2" x="894.0" y="1060.7"/>
<use href="#m2" x="905.1" y="1060.1"/>
<use href="#m2" x="916.2" y="1120.0"/>
<use href="#m2" x="927.2" y="1139.0"/>
<use href="#m2" x="938.3" y="1136.4"/>
<use href="#m2" x="949.4" y="1120.7"/>
<use href="#m2" x="960.4" y="1097.3"/>
<use href="#m2" x="971.5" y="1070.2"/>
<use href="#m2" x="982.6" y="1062.0"/>
<use href="#m2" x="993.7" y="1123.8"/>
<use href="#m2" x="1004.7" y="1156.0"/>
<use href="#m2" x="1015.8" y="1152.2"/>
<use href="#m2" x="1026.9" y="1127.0"/>
<use href="#m2" x="1037.9" y="1105.5"/>
<use href="#m2" x="1049.0" y="1080.9"/>
<use href="#m2" x="1060.1" y="1074.6"/>
<use href="#m2" x="1071.2" y="1117.5"/>
<use href="#m2" x="1082.2" y="1163.6"/>
<use href="#m2" x="1093.3" y="1151.6"/>
<use href="#m2" x="1104.4" y="1127.0"/>
<use href="#m2" x="1115.4" y="1111.8"/>
<use href="#m2" x="1126.5" y="1101.1"/>
<use href="#m2" x="1137.6" y="1091.7"/>
<use href="#m2" x="1148.7" y="1091.0"/>
<use href="#m2" x="1159.7" y="1135.8"/>
<use href="#m2" x="1170.8" y="1148.4"/>
<use href="#m2" x="1181.9" y="1133.9"/>
<use href="#m2" x="1193.0" y="1130.1"/>
<use href="#m2" x="1204.0" y="1123.8"/>
<use href="#m2" x="1215.1" y="1108.1"/>
<use href="#m2" x="1226.2" y="1090.4"/>
<use href="#m2" x="1237.2" y="1099.2"/>
<use href="#m2" x="1248.3" y="1140.8"/>
<use href="#m2" x="1259.4" y="1135.8"/>
<use href="#m2" x="1270.5" y="1134.5"/>
<use href="#m2" x="1281.5" y="1123.8"/>
<use href="#m2" x="1292.6" y="1106.8"/>
<use href="#m2" x="1303.7" y="1087.2"/>
<use href="#m2" x="1314.7" y="1057.6"/>
<use href="#m2" x="1325.8" y="1084.1"/>
<use href="#m2" x="1336.9" y="1135.8"/>
<use href="#m2" x="1348.0" y="1139.0"/>
<use href="#m2" x="1359.0" y="1137.7"/>
<use href="#m2" x="1370.1" y="1128.2"/>
<use href="#m2" x="1381.2" y="1093.5"/>
<use href="#m2" x="1392.2" y="1069.6"/>
<use href="#m2" x="1403.3" y="1067.7"/>
<use href="#m2" x="1414.4" y="1130.1"/>
<use href="#m2" x="1425.5" y="1159.1"/>
<use href="#m2" x="1436.5" y="1157.2"/>
<use href="#m2" x="1447.6" y="1136.4"/>
<use href="#m2" x="1458.7" y="1105.5"/>
<use href="#m2" x="1469.8" y="1084.7"/>
<use href="#m2" x="1480.8" y="1083.5"/>
<use href="#m2" x="1491.9" y="1119.4"/>
<use href="#m2" x="1503.0" y="1157.2"/>
<use href="#m2" x="1514.0" y="1154.1"/>
<use href="#m2" x="1525.1" y="1135.2"/>
<use href="#m2" x="1536.2" y="1117.5"/>
<use href="#m2" x="1547.3" y="1103.0"/>
<use href="#m2" x="1558.3" y="1093.5"/>
<use href="#m2" x="1569.4" y="1091.7"/>
<use href="#m2" x="1580.5" y="1137.1"/>
<use href="#m2" x="1591.5" y="1145.3"/>
<use href="#m2" x="1602.6" y="1137.7"/>
<use href="#m2" x="1613.7" y="1136.4"/>
<use href="#m2" x="1624.8" y="1117.5"/>
<use href="#m2" x="1635.8" y="1101.1"/>
<use href="#m2" x="1646.9" y="1075.3"/>
<use href="#m2" x="1658.0" y="1106.8"/>
<use href="#m2" x="1669.0" y="1140.8"/>
<use href="#m2" x="1680.1" y="1146.5"/>
<use href="#m2" x="1691.2" y="1142.7"/>
<use href="#m2" x="1702.3" y="1136.4"/>
<use href="#m2" x="1713.3" y="1109.9"/>
<use href="#m2" x="1724.4" y="1078.4"/>
<use href="#m2" x="1735.5" y="1079.7"/>
<use href="#m2" x="1746.6" y="1150.9"/>
<use href="#m2" x="1757.6" y="1157.9"/>
<use href="#m2" x="1768.7" y="1157.9"/>
<use href="#m2" x="1779.8" y="1140.8"/>
<use href="#m2" x="1790.8" y="1106.2"/>
<use href="#m2" x="1801.9" y="1075.9"/>
<use href="#m2" x="1813.0" y="1090.4"/>
<use href="#m2" x="1824.1" y="1150.9"/>
<use href="#m2" x="1835.1" y="1164.2"/>
<use href="#m2" x="1846.2" y="1159.8"/>
<use href="#m2" x="1857.3" y="1136.4"/>
<use href="#m2" x="1868.3" y="1108.1"/>
<use href="#m2" x="1879.4" y="1088.5"/>
<use href="#m2" x="1890.5" y="1090.4"/>
<use href="#m2" x="1901.6" y="1149.7"/>
<use href="#m2" x="1912.6" y="1175.5"/>
<use href="#m2" x="1923.7" y="1161.7"/>
<use href="#m2" x="1934.8" y="1139.0"/>
<use href="#m2" x="1945.8" y="1120.7"/>
<use href="#m2" x="1956.9" y="1111.8"/>
<use href="#m2" x="1968.0" y="1102.4"/>
<use href="#m2" x="1979.1" y="1139.0"/>
<use href="#m2" x="1990.1" y="1178.7"/>
<use href="#m2" x="2001.2" y="1170.5"/>
<use href="#m2" x="2012.3" y="1150.9"/>
<use href="#m2" x="2023.4" y="1123.8"/>
<use href="#m2" x="2034.4" y="1101.1"/>
<use href="#m2" x="2045.5" y="1097.3"/>
<use href="#m2" x="2056.6" y="1105.5"/>
<use href="#m2" x="2067.6" y="1157.9"/>
<use href="#m2" x="2078.7" y="1166.7"/>
<use href="#m2" x="2089.8" y="1164.8"/>
<use href="#m2" x="2100.9" y="1136.4"/>
<use href="#m2" x="2111.9" y="1102.4"/>
<use href="#m2" x="2123.0" y="1087.2"/>
<use href="#m2" x="2134.1" y="1086.0"/>
<use href="#m2" x="2145.1" y="1127.0"/>
<use href="#m2" x="2156.2" y="1166.7"/>
<use href="#m2" x="2167.3" y="1157.2"/>
<use href="#m2" x="2178.4" y="1142.1"/>
</g>
<path d="M185.4,1218.4 196.5,1215.3 207.5,1212.1 218.6,1205.8 229.7,1197.6 240.8,1192.6 251.8,1186.9 262.9,1174.9 274.0,1168.0 285.0,1153.5 296.1,1150.9 307.2,1137.7 318.3,1127.0 329.3,1120.0 340.4,1116.9 351.5,1116.2 362.6,1108.1 373.6,1098.6 384.7,1092.3 395.8,1079.7 406.8,1080.9 417.9,1086.0 429.0,1139.0 440.1,1164.2 451.1,1173.0 462.2,1168.0 473.3,1156.0 484.3,1143.4 495.4,1130.1 506.5,1117.5 517.6,1101.1 528.6,1087.9 539.7,1076.5 550.8,1065.2 561.8,1084.7 572.9,1139.0 584.0,1157.2 595.1,1157.2 606.1,1145.9 617.2,1136.4 628.3,1123.8 639.4,1108.1 650.4,1089.1 661.5,1077.1 672.6,1090.4 683.6,1133.3 694.7,1152.2 705.8,1149.0 716.9,1133.3 727.9,1113.1 739.0,1087.2 750.1,1078.4 761.1,1094.8 772.2,1139.0 783.3,1145.3 794.4,1142.7 805.4,1123.8 816.5,1109.9 827.6,1098.6 838.6,1090.4 849.7,1098.6 860.8,1139.6 871.9,1139.6 882.9,1132.6 894.0,1123.8 905.1,1104.9 916.2,1092.3 927.2,1087.2 938.3,1123.8 949.4,1142.7 960.4,1144.0 971.5,1139.6 982.6,1123.8 993.7,1104.9 1004.7,1088.5 1015.8,1111.2 1026.9,1139.6 1037.9,1142.7 1049.0,1136.4 1060.1,1123.8 1071.2,1104.9 1082.2,1088.5 1093.3,1094.8 1104.4,1130.1 1115.4,1142.7 1126.5,1142.7 1137.6,1125.1 1148.7,1108.7 1159.7,1092.3 1170.8,1074.6 1181.9,1088.5 1193.0,1130.1 1204.0,1145.3 1215.1,1140.8 1226.2,1130.1 1237.2,1117.5 1248.3,1098.6 1259.4,1079.7 1270.5,1098.6 1281.5,1142.1 1292.6,1142.7 1303.7,1133.3 1314.7,1117.5 1325.8,1098.6 1336.9,1073.4 1348.0,1065.8 1359.0,1104.9 1370.1,1132.6 1381.2,1133.9 1392.2,1123.8 1403.3,1104.9 1414.4,1086.0 1425.5,1068.9 1436.5,1088.5 1447.6,1127.0 1458.7,1134.5 1469.8,1130.1 1480.8,1117.5 1491.9,1098.6 1503.0,1073.4 1514.0,1070.2 1525.1,1109.9 1536.2,1127.0 1547.3,1123.8 1558.3,1111.2 1569.4,1092.3 1580.5,1079.7 1591.5,1069.6 1602.6,1104.9 1613.7,1130.1 1624.8,1136.4 1635.8,1123.8 1646.9,1104.9 1658.0,1086.0 1669.0,1075.9 1680.1,1093.5 1691.2,1127.0 1702.3,1136.4 1713.3,1130.1 1724.4,1104.9 1735.5,1092.3 1746.6,1076.5 1757.6,1084.1 1768.7,1117.5 1779.8,1130.1 1790.8,1130.1 1801.9,1117.5 1813.0,1109.9 1824.1,1092.3 1835.1,1079.0 1846.2,1090.4 1857.3,1127.0 1868.3,1135.8 1879.4,1130.1 1890.5,1117.5 1901.6,1098.6 1912.6,1079.7 1923.7,1067.1 1934.8,1113.1 1945.8,1130.1 1956.9,1142.1 1968.0,1117.5 1979.1,1105.5 1990.1,1078.4 2001.2,1075.3 2012.3,1098.6 2023.4,1135.8 2034.4,1130.1 2045.5,1123.8 2056.6,1120.7 2067.6,1098.6 2078.7,1078.4 2089.8,1088.5 2100.9,1130.1 2111.9,1159.1 2123.0,1142.7 2134.1,1123.8 2145.1,1104.9 2156.2,1092.3 2167.3,1092.3 2178.4,1116.2" fill="none" stroke="#37AD6B" stroke-width="1.6" stroke-linejoin="round"/>
<g fill="#37AD6B">
<use href="#m3" x="185.4" y="1218.4"/>
<use href="#m3" x="196.5" y="1215.3"/>
<use href="#m3" x="207.5" y="1212.1"/>
<use href="#m3" x="218.6" y="1205.8"/>
<use href="#m3" x="229.7" y="1197.6"/>
<use href="#m3" x="240.8" y="1192.6"/>
<use href="#m3" x="251.8" y="1186.9"/>
<use href="#m3" x="262.9" y="1174.9"/>
<use href="#m3" x="274.0" y="1168.0"/>
<use href="#m3" x="285.0" y="1153.5"/>
<use href="#m3" x="296.1" y="1150.9"/>
<use href="#m3" x="307.2" y="1137.7"/>
<use href="#m3" x="318.3" y="1127.0"/>
<use href="#m3" x="329.3" y="1120.0"/>
<use href="#m3" x="340.4" y="1116.9"/>
<use href="#m3" x="351.5" y="1116.2"/>
<use href="#m3" x="362.6" y="1108.1"/>
<use href="#m3" x="373.6" y="1098.6"/>
<use href="#m3" x="384.7" y="1092.3"/>
<use href="#m3" x="395.8" y="1079.7"/>
<use href="#m3" x="406.8" y="1080.9"/>
<use href="#m3" x="417.9" y="1086.0"/>
<use href="#m3" x="429.0" y="1139.0"/>
<use href="#m3" x="440.1" y="1164.2"/>
<use href="#m3" x="451.1" y="1173.0"/>
<use href="#m3" x="462.2" y="1168.0"/>
<use href="#m3" x="473.3" y="1156.0"/>
<use href="#m3" x="484.3" y="1143.4"/>
<use href="#m3" x="495.4" y="1130.1"/>
<use href="#m3" x="506.5" y="1117.5"/>
<use href="#m3" x="517.6" y="1101.1"/>
<use href="#m3" x="528.6" y="1087.9"/>
<use href="#m3" x="539.7" y="1076.5"/>
<use href="#m3" x="550.8" y="1065.2"/>
<use href="#m3" x="561.8" y="1084.7"/>
<use href="#m3" x="572.9" y="1139.0"/>
<use href="#m3" x="584.0" y="1157.2"/>
<use href="#m3" x="595.1" y="1157.2"/>
<use href="#m3" x="606.1" y="1145.9"/>
<use href="#m3" x="617.2" y="1136.4"/>
<use href="#m3" x="628.3" y="1123.8"/>
<use href="#m3" x="639.4" y="1108.1"/>
<use href="#m3" x="650.4" y="1089.1"/>
<use href="#m3" x="661.5" y="1077.1"/>
<use href="#m3" x="672.6" y="1090.4"/>
<use href="#m3" x="683.6" y="1133.3"/>
<use href="#m3" x="694.7" y="1152.2"/>
<use href="#m3" x="705.8" y="1149.0"/>
<use href="#m3" x="716.9" y="1133.3"/>
<use href="#m3" x="727.9" y="1113.1"/>
<use href="#m3" x="739.0" y="1087.2"/>
<use href="#m3" x="750.1" y="1078.4"/>
<use href="#m3" x="761.1" y="1094.8"/>
<use href="#m3" x="772.2" y="1139.0"/>
<use href="#m3" x="783.3" y="1145.3"/>
<use href="#m3" x="794.4" y="1142.7"/>
<use href="#m3" x="805.4" y="1123.8"/>
<use href="#m3" x="816.5" y="1109.9"/>
<use href="#m3" x="827.6" y="1098.6"/>
<use href="#m3" x="838.6" y="1090.4"/>
<use href="#m3" x="849.7" y="1098.6"/>
<use href="#m3" x="860.8" y="1139.6"/>
<use href="#m3" x="871.9" y="1139.6"/>
<use href="#m3" x="882.9" y="1132.6"/>
<use href="#m3" x="894.0" y="1123.8"/>
<use href="#m3" x="905.1" y="1104.9"/>
<use href="#m3" x="916.2" y="1092.3"/>
<use href="#m3" x="927.2" y="1087.2"/>
<use href="#m3" x="938.3" y="1123.8"/>
<use href="#m3" x="949.4" y="1142.7"/>
<use href="#m3" x="960.4" y="1144.0"/>
<use href="#m3" x="971.5" y="1139.6"/>
<use href="#m3" x="982.6" y="1123.8"/>
<use href="#m3" x="993.7" y="1104.9"/>
<use href="#m3" x="1004.7" y="1088.5"/>
<use href="#m3" x="1015.8" y="1111.2"/>
<use href="#m3" x="1026.9" y="1139.6"/>
<use href="#m3" x="1037.9" y="1142.7"/>
<use href="#m3" x="1049.0" y="1136.4"/>
<use href="#m3" x="1060.1" y="1123.8"/>
<use href="#m3" x="1071.2" y="1104.9"/>
<use href="#m3" x="1082.2" y="1088.5"/>
<use href="#m3" x="1093.3" y="1094.8"/>
<use href="#m3" x="1104.4" y="1130.1"/>
<use href="#m3" x="1115.4" y="1142.7"/>
<use href="#m3" x="1126.5" y="1142.7"/>
<use href="#m3" x="1137.6" y="1125.1"/>
<use href="#m3" x="1148.7" y="1108.7"/>
<use href="#m3" x="1159.7" y="1092.3"/>
<use href="#m3" x="1170.8" y="1074.6"/>
<use href="#m3" x="1181.9" y="1088.5"/>
<use href="#m3" x="1193.0" y="1130.1"/>
<use href="#m3" x="1204.0" y="1145.3"/>
<use href="#m3" x="1215.1" y="1140.8"/>
<use href="#m3" x="1226.2" y="1130.1"/>
<use href="#m3" x="1237.2" y="1117.5"/>
<use href="#m3" x="1248.3" y="1098.6"/>
<use href="#m3" x="1259.4" y="1079.7"/>
<use href="#m3" x="1270.5" y="1098.6"/>
<use href="#m3" x="1281.5" y="1142.1"/>
<use href="#m3" x="1292.6" y="1142.7"/>
<use href="#m3" x="1303.7" y="1133.3"/>
<use href="#m3" x="1314.7" y="1117.5"/>
<use href="#m3" x="1325.8" y="1098.6"/>
<use href="#m3" x="1336.9" y="1073.4"/>
<use href="#m3" x="1348.0" y="1065.8"/>
<use href="#m3" x="1359.0" y="1104.9"/>
<use href="#m3" x="1370.1" y="1132.6"/>
<use href="#m3" x="1381.2" y="1133.9"/>
<use href="#m3" x="1392.2" y="1123.8"/>
<use href="#m3" x="1403.3" y="1104.9"/>
<use href="#m3" x="1414.4" y="1086.0"/>
<use href="#m3" x="1425.5" y="1068.9"/>
<use href="#m3" x="1436.5" y="1088.5"/>
<use href="#m3" x="1447.6" y="1127.0"/>
<use href="#m3" x="1458.7" y="1134.5"/>
<use href="#m3" x="1469.8" y="1130.1"/>
<use href="#m3" x="1480.8" y="1117.5"/>
<use href="#m3" x="1491.9" y="1098.6"/>
<use href="#m3" x="1503.0" y="1073.4"/>
<use href="#m3" x="1514.0" y="1070.2"/>
<use href="#m3" x="1525.1" y="1109.9"/>
<use href="#m3" x="1536.2" y="1127.0"/>
<use href="#m3" x="1547.3" y="1123.8"/>
<use href="#m3" x="1558.3" y="1111.2"/>
<use href="#m3" x="1569.4" y="1092.3"/>
<use href="#m3" x="1580.5" y="1079.7"/>
<use href="#m3" x="1591.5" y="1069.6"/>
<use href="#m3" x="1602.6" y="1104.9"/>
<use href="#m3" x="1613.7" y="1130.1"/>
<use href="#m3" x="1624.8" y="1136.4"/>
<use href="#m3" x="1635.8" y="1123.8"/>
<use href="#m3" x="1646.9" y="1104.9"/>
<use href="#m3" x="1658.0" y="1086.0"/>
<use href="#m3" x="1669.0" y="1075.9"/>
<use href="#m3" x="1680.1" y="1093.5"/>
<use href="#m3" x="1691.2" y="1127.0"/>
<use href="#m3" x="1702.3" y="1136.4"/>
<use href="#m3" x="1713.3" y="1130.1"/>
<use href="#m3" x="1724.4" y="1104.9"/>
<use href="#m3" x="1735.5" y="1092.3"/>
<use href="#m3" x="1746.6" y="1076.5"/>
<use href="#m3" x="1757.6" y="1084.1"/>
<use href="#m3" x="1768.7" y="1117.5"/>
<use href="#m3" x="1779.8" y="1130.1"/>
<use href="#m3" x="1790.8" y="1130.1"/>
<use href="#m3" x="1801.9" y="1117.5"/>
<use href="#m3" x="1813.0" y="1109.9"/>
<use href="#m3" x="1824.1" y="1092.3"/>
<use href="#m3" x="1835.1" y="1079.0"/>
<use href="#m3" x="1846.2" y="1090.4"/>
<use href="#m3" x="1857.3" y="1127.0"/>
<use href="#m3" x="1868.3" y="1135.8"/>
<use href="#m3" x="1879.4" y="1130.1"/>
<use href="#m3" x="1890.5" y="1117.5"/>
<use href="#m3" x="1901.6" y="1098.6"/>
<use href="#m3" x="1912.6" y="1079.7"/>
<use href="#m3" x="1923.7" y="1067.1"/>
<use href="#m3" x="1934.8" y="1113.1"/>
<use href="#m3" x="1945.8" y="1130.1"/>
<use href="#m3" x="1956.9" y="1142.1"/>
<use href="#m3" x="1968.0" y="1117.5"/>
<use href="#m3" x="1979.1" y="1105.5"/>
<use href="#m3" x="1990.1" y="1078.4"/>
<use href="#m3" x="2001.2" y="1075.3"/>
<use href="#m3" x="2012.3" y="1098.6"/>
<use href="#m3" x="2023.4" y="1135.8"/>
<use href="#m3" x="2034.4" y="1130.1"/>
<use href="#m3" x="2045.5" y="1123.8"/>
<use href="#m3" x="2056.6" y="1120.7"/>
<use href="#m3" x="2067.6" y="1098.6"/>
<use href="#m3" x="2078.7" y="1078.4"/>
<use href="#m3" x="2089.8" y="1088.5"/>
<use href="#m3" x="2100.9" y="1130.1"/>
<use href="#m3" x="2111.9" y="1159.1"/>
<use href="#m3" x="2123.0" y="1142.7"/>
<use href="#m3" x="2134.1" y="1123.8"/>
<use href="#m3" x="2145.1" y="1104.9"/>
<use href="#m3" x="2156.2" y="1092.3"/>
<use href="#m3" x="2167.3" y="1092.3"/>
<use href="#m3" x="2178.4" y="1116.2"/>
</g>
<path d="M185.4,1210.9 196.5,1197.6 207.5,1181.8 218.6,1161.7 229.7,1146.5 240.8,1125.7 251.8,1111.2 262.9,1089.8 274.0,1068.9 285.0,1054.4 296.1,1039.9 307.2,1019.1 318.3,997.7 329.3,983.2 340.4,962.4 351.5,940.3 362.6,920.1 373.6,905.0 384.7,884.2 395.8,863.3 406.8,841.9 417.9,877.8 429.0,932.7 440.1,949.7 451.1,934.6 462.2,913.8 473.3,886.0 484.3,865.2 495.4,838.1 506.5,811.0 517.6,783.2 528.6,763.7 539.7,751.7 550.8,732.2 561.8,732.2 572.9,801.5 584.0,826.1 595.1,820.5 606.1,801.5 617.2,783.2 628.3,758.0 639.4,739.1 650.4,713.9 661.5,688.6 672.6,751.7 683.6,789.5 694.7,795.9 705.8,776.9 716.9,758.0 727.9,732.8 739.0,707.6 750.1,688.6 761.1,732.8 772.2,776.9 783.3,783.2 794.4,764.3 805.4,745.4 816.5,720.2 827.6,694.9 838.6,676.0 849.7,745.4 860.8,776.9 871.9,770.6 882.9,758.0 894.0,732.8 905.1,707.6 916.2,682.3 927.2,707.6 938.3,764.3 949.4,770.6 960.4,758.0 971.5,739.1 982.6,713.9 993.7,688.6 1004.7,676.0 1015.8,745.4 1026.9,770.6 1037.9,764.3 1049.0,745.4 1060.1,720.2 1071.2,701.2 1082.2,669.7 1093.3,713.9 1104.4,764.3 1115.4,764.3 1126.5,751.7 1137.6,726.5 1148.7,701.2 1159.7,676.0 1170.8,650.8 1181.9,713.9 1193.0,758.0 1204.0,758.0 1215.1,739.1 1226.2,720.2 1237.2,694.9 1248.3,669.7 1259.4,663.4 1270.5,739.1 1281.5,764.3 1292.6,758.0 1303.7,739.1 1314.7,713.9 1325.8,688.6 1336.9,663.4 1348.0,676.0 1359.0,739.1 1370.1,751.7 1381.2,739.1 1392.2,720.2 1403.3,694.9 1414.4,676.0 1425.5,657.1 1436.5,720.2 1447.6,751.7 1458.7,745.4 1469.8,726.5 1480.8,707.6 1491.9,682.3 1503.0,657.1 1514.0,688.6 1525.1,745.4 1536.2,751.7 1547.3,732.8 1558.3,713.9 1569.4,688.6 1580.5,663.4 1591.5,676.0 1602.6,739.1 1613.7,751.7 1624.8,745.4 1635.8,720.2 1646.9,701.2 1658.0,676.0 1669.0,650.8 1680.1,713.9 1691.2,751.7 1702.3,751.7 1713.3,732.8 1724.4,713.9 1735.5,688.6 1746.6,663.4 1757.6,676.0 1768.7,739.1 1779.8,751.7 1790.8,745.4 1801.9,726.5 1813.0,701.2 1824.1,676.0 1835.1,650.8 1846.2,707.6 1857.3,751.7 1868.3,751.7 1879.4,732.8 1890.5,713.9 1901.6,688.6 1912.6,663.4 1923.7,676.0 1934.8,739.1 1945.8,751.7 1956.9,745.4 1968.0,726.5 1979.1,701.2 1990.1,676.0 2001.2,650.8 2012.3,720.2 2023.4,751.7 2034.4,751.7 2045.5,732.8 2056.6,713.9 2067.6,688.6 2078.7,657.1 2089.8,682.3 2100.9,745.4 2111.9,751.7 2123.0,745.4 2134.1,720.2 2145.1,694.9 2156.2,669.7 2167.3,657.1 2178.4,732.8" fill="none" stroke="#B177DE" stroke-width="1.6" stroke-linejoin="round"/>
<g fill="#B177DE">
<use href="#m4" x="185.4" y="1210.9"/>
<use href="#m4" x="196.5" y="1197.6"/>
<use href="#m4" x="207.5" y="1181.8"/>
<use href="#m4" x="218.6" y="1161.7"/>
<use href="#m4" x="229.7" y="1146.5"/>
<use href="#m4" x="240.8" y="1125.7"/>
<use href="#m4" x="251.8" y="1111.2"/>
<use href="#m4" x="262.9" y="1089.8"/>
<use href="#m4" x="274.0" y="1068.9"/>
<use href="#m4" x="285.0" y="1054.4"/>
<use href="#m4" x="296.1" y="1039.9"/>
<use href="#m4" x="307.2" y="1019.1"/>
<use href="#m4" x="318.3" y="997.7"/>
<use href="#m4" x="329.3" y="983.2"/>
<use href="#m4" x="340.4" y="962.4"/>
<use href="#m4" x="351.5" y="940.3"/>
<use href="#m4" x="362.6" y="920.1"/>
<use href="#m4" x="373.6" y="905.0"/>
<use href="#m4" x="384.7" y="884.2"/>
<use href="#m4" x="395.8" y="863.3"/>
<use href="#m4" x="406.8" y="841.9"/>
<use href="#m4" x="417.9" y="877.8"/>
<use href="#m4" x="429.0" y="932.7"/>
<use href="#m4" x="440.1" y="949.7"/>
<use href="#m4" x="451.1" y="934.6"/>
<use href="#m4" x="462.2" y="913.8"/>
<use href="#m4" x="473.3" y="886.0"/>
<use href="#m4" x="484.3" y="865.2"/>
<use href="#m4" x="495.4" y="838.1"/>
<use href="#m4" x="506.5" y="811.0"/>
<use href="#m4" x="517.6" y="783.2"/>
<use href="#m4" x="528.6" y="763.7"/>
<use href="#m4" x="539.7" y="751.7"/>
<use href="#m4" x="550.8" y="732.2"/>
<use href="#m4" x="561.8" y="732.2"/>
<use href="#m4" x="572.9" y="801.5"/>
<use href="#m4" x="584.0" y="826.1"/>
<use href="#m4" x="595.1" y="820.5"/>
<use href="#m4" x="606.1" y="801.5"/>
<use href="#m4" x="617.2" y="783.2"/>
<use href="#m4" x="628.3" y="758.0"/>
<use href="#m4" x="639.4" y="739.1"/>
<use href="#m4" x="650.4" y="713.9"/>
<use href="#m4" x="661.5" y="688.6"/>
<use href="#m4" x="672.6" y="751.7"/>
<use href="#m4" x="683.6" y="789.5"/>
<use href="#m4" x="694.7" y="795.9"/>
<use href="#m4" x="705.8" y="776.9"/>
<use href="#m4" x="716.9" y="758.0"/>
<use href="#m4" x="727.9" y="732.8"/>
<use href="#m4" x="739.0" y="707.6"/>
<use href="#m4" x="750.1" y="688.6"/>
<use href="#m4" x="761.1" y="732.8"/>
<use href="#m4" x="772.2" y="776.9"/>
<use href="#m4" x="783.3" y="783.2"/>
<use href="#m4" x="794.4" y="764.3"/>
<use href="#m4" x="805.4" y="745.4"/>
<use href="#m4" x="816.5" y="720.2"/>
<use href="#m4" x="827.6" y="694.9"/>
<use href="#m4" x="838.6" y="676.0"/>
<use href="#m4" x="849.7" y="745.4"/>
<use href="#m4" x="860.8" y="776.9"/>
<use href="#m4" x="871.9" y="770.6"/>
<use href="#m4" x="882.9" y="758.0"/>
<use href="#m4" x="894.0" y="732.8"/>
<use href="#m4" x="905.1" y="707.6"/>
<use href="#m4" x="916.2" y="682.3"/>
<use href="#m4" x="927.2" y="707.6"/>
<use href="#m4" x="938.3" y="764.3"/>
<use href="#m4" x="949.4" y="770.6"/>
<use href="#m4" x="960.4" y="758.0"/>
<use href="#m4" x="971.5" y="739.1"/>
<use href="#m4" x="982.6" y="713.9"/>
<use href="#m4" x="993.7" y="688.6"/>
<use href="#m4" x="1004.7" y="676.0"/>
<use href="#m4" x="1015.8" y="745.4"/>
<use href="#m4" x="1026.9" y="770.6"/>
<use href="#m4" x="1037.9" y="764.3"/>
<use href="#m4" x="1049.0" y="745.4"/>
<use href="#m4" x="1060.1" y="720.2"/>
<use href="#m4" x="1071.2" y="701.2"/>
<use href="#m4" x="1082.2" y="669.7"/>
<use href="#m4" x="1093.3" y="713.9"/>
<use href="#m4" x="1104.4" y="764.3"/>
<use href="#m4" x="1115.4" y="764.3"/>
<use href="#m4" x="1126.5" y="751.7"/>
<use href="#m4" x="1137.6" y="726.5"/>
<use href="#m4" x="1148.7" y="701.2"/>
<use href="#m4" x="1159.7" y="676.0"/>
<use href="#m4" x="1170.8" y="650.8"/>
<use href="#m4" x="1181.9" y="713.9"/>
<use href="#m4" x="1193.0" y="758.0"/>
<use href="#m4" x="1204.0" y="758.0"/>
<use href="#m4" x="1215.1" y="739.1"/>
<use href="#m4" x="1226.2" y="720.2"/>
<use href="#m4" x="1237.2" y="694.9"/>
<use href="#m4" x="1248.3" y="669.7"/>
<use href="#m4" x="1259.4" y="663.4"/>
<use href="#m4" x="1270.5" y="739.1"/>
<use href="#m4" x="1281.5" y="764.3"/>
<use href="#m4" x="1292.6" y="758.0"/>
<use href="#m4" x="1303.7" y="739.1"/>
<use href="#m4" x="1314.7" y="713.9"/>
<use href="#m4" x="1325.8" y="688.6"/>
<use href="#m4" x="1336.9" y="663.4"/>
<use href="#m4" x="1348.0" y="676.0"/>
<use href="#m4" x="1359.0" y="739.1"/>
<use href="#m4" x="1370.1" y="751.7"/>
<use href="#m4" x="1381.2" y="739.1"/>
<use href="#m4" x="1392.2" y="720.2"/>
<use href="#m4" x="1403.3" y="694.9"/>
<use href="#m4" x="1414.4" y="676.0"/>
<use href="#m4" x="1425.5" y="657.1"/>
<use href="#m4" x="1436.5" y="720.2"/>
<use href="#m4" x="1447.6" y="751.7"/>
<use href="#m4" x="1458.7" y="745.4"/>
<use href="#m4" x="1469.8" y="726.5"/>
<use href="#m4" x="1480.8" y="707.6"/>
<use href="#m4" x="1491.9" y="682.3"/>
<use href="#m4" x="1503.0" y="657.1"/>
<use href="#m4" x="1514.0" y="688.6"/>
<use href="#m4" x="1525.1" y="745.4"/>
<use href="#m4" x="1536.2" y="751.7"/>
<use href="#m4" x="1547.3" y="732.8"/>
<use href="#m4" x="1558.3" y="713.9"/>
<use href="#m4" x="1569.4" y="688.6"/>
<use href="#m4" x="1580.5" y="663.4"/>
<use href="#m4" x="1591.5" y="676.0"/>
<use href="#m4" x="1602.6" y="739.1"/>
<use href="#m4" x="1613.7" y="751.7"/>
<use href="#m4" x="1624.8" y="745.4"/>
<use href="#m4" x="1635.8" y="720.2"/>
<use href="#m4" x="1646.9" y="701.2"/>
<use href="#m4" x="1658.0" y="676.0"/>
<use href="#m4" x="1669.0" y="650.8"/>
<use href="#m4" x="1680.1" y="713.9"/>
<use href="#m4" x="1691.2" y="751.7"/>
<use href="#m4" x="1702.3" y="751.7"/>
<use href="#m4" x="1713.3" y="732.8"/>
<use href="#m4" x="1724.4" y="713.9"/>
<use href="#m4" x="1735.5" y="688.6"/>
<use href="#m4" x="1746.6" y="663.4"/>
<use href="#m4" x="1757.6" y="676.0"/>
<use href="#m4" x="1768.7" y="739.1"/>
<use href="#m4" x="1779.8" y="751.7"/>
<use href="#m4" x="1790.8" y="745.4"/>
<use href="#m4" x="1801.9" y="726.5"/>
<use href="#m4" x="1813.0" y="701.2"/>
<use href="#m4" x="1824.1" y="676.0"/>
<use href="#m4" x="1835.1" y="650.8"/>
<use href="#m4" x="1846.2" y="707.6"/>
<use href="#m4" x="1857.3" y="751.7"/>
<use href="#m4" x="1868.3" y="751.7"/>
<use href="#m4" x="1879.4" y="732.8"/>
<use href="#m4" x="1890.5" y="713.9"/>
<use href="#m4" x="1901.6" y="688.6"/>
<use href="#m4" x="1912.6" y="663.4"/>
<use href="#m4" x="1923.7" y="676.0"/>
<use href="#m4" x="1934.8" y="739.1"/>
<use href="#m4" x="1945.8" y="751.7"/>
<use href="#m4" x="1956.9" y="745.4"/>
<use href="#m4" x="1968.0" y="726.5"/>
<use href="#m4" x="1979.1" y="701.2"/>
<use href="#m4" x="1990.1" y="676.0"/>
<use href="#m4" x="2001.2" y="650.8"/>
<use href="#m4" x="2012.3" y="720.2"/>
<use href="#m4" x="2023.4" y="751.7"/>
<use href="#m4" x="2034.4" y="751.7"/>
<use href="#m4" x="2045.5" y="732.8"/>
<use href="#m4" x="2056.6" y="713.9"/>
<use href="#m4" x="2067.6" y="688.6"/>
<use href="#m4" x="2078.7" y="657.1"/>
<use href="#m4" x="2089.8" y="682.3"/>
<use href="#m4" x="2100.9" y="745.4"/>
<use href="#m4" x="2111.9" y="751.7"/>
<use href="#m4" x="2123.0" y="745.4"/>
<use href="#m4" x="2134.1" y="720.2"/>
<use href="#m4" x="2145.1" y="694.9"/>
<use href="#m4" x="2156.2" y="669.7"/>
<use href="#m4" x="2167.3" y="657.1"/>
<use href="#m4" x="2178.4" y="732.8"/>
</g>
<path d="M185.4,1232.3 196.5,1224.7 207.5,1221.6 218.6,1215.3 229.7,1209.0 240.8,1202.7 251.8,1193.8 262.9,1185.6 274.0,1174.9 285.0,1168.6 296.1,1163.6 307.2,1152.8 318.3,1142.7 329.3,1133.3 340.4,1128.2 351.5,1120.7 362.6,1112.5 373.6,1101.7 384.7,1092.3 395.8,1086.0 406.8,1078.4 417.9,1104.3 429.0,1168.0 440.1,1185.6 451.1,1192.6 462.2,1185.0 473.3,1168.0 484.3,1156.0 495.4,1142.1 506.5,1130.1 517.6,1109.9 528.6,1093.5 539.7,1078.4 550.8,1067.1 561.8,1089.1 572.9,1149.0 584.0,1172.4 595.1,1154.1 606.1,1142.1 617.2,1134.5 628.3,1120.7 639.4,1102.4 650.4,1076.5 661.5,1058.9 672.6,1087.9 683.6,1137.7 694.7,1143.4 705.8,1142.1 716.9,1122.6 727.9,1099.2 739.0,1075.3 750.1,1060.7 761.1,1086.0 772.2,1142.1 783.3,1142.1 794.4,1130.1 805.4,1106.8 816.5,1093.5 827.6,1084.1 838.6,1086.0 849.7,1092.3 860.8,1139.0 871.9,1136.4 882.9,1127.0 894.0,1109.9 905.1,1099.2 916.2,1089.1 927.2,1078.4 938.3,1125.1 949.4,1143.4 960.4,1144.6 971.5,1136.4 982.6,1120.7 993.7,1101.7 1004.7,1078.4 1015.8,1109.9 1026.9,1142.1 1037.9,1142.7 1049.0,1133.3 1060.1,1120.7 1071.2,1104.9 1082.2,1079.0 1093.3,1089.8 1104.4,1130.1 1115.4,1142.7 1126.5,1137.7 1137.6,1130.1 1148.7,1114.4 1159.7,1098.6 1170.8,1062.6 1181.9,1086.6 1193.0,1130.1 1204.0,1145.3 1215.1,1142.1 1226.2,1127.0 1237.2,1111.2 1248.3,1087.2 1259.4,1071.5 1270.5,1106.8 1281.5,1146.5 1292.6,1145.9 1303.7,1136.4 1314.7,1117.5 1325.8,1092.3 1336.9,1065.8 1348.0,1061.4 1359.0,1114.4 1370.1,1130.1 1381.2,1135.8 1392.2,1130.1 1403.3,1109.9 1414.4,1079.7 1425.5,1062.0 1436.5,1090.4 1447.6,1134.5 1458.7,1146.5 1469.8,1130.1 1480.8,1116.2 1491.9,1098.6 1503.0,1070.2 1514.0,1072.1 1525.1,1109.9 1536.2,1130.1 1547.3,1130.1 1558.3,1116.2 1569.4,1099.2 1580.5,1080.9 1591.5,1073.4 1602.6,1111.8 1613.7,1136.4 1624.8,1136.4 1635.8,1128.2 1646.9,1109.9 1658.0,1090.4 1669.0,1078.4 1680.1,1101.1 1691.2,1133.3 1702.3,1136.4 1713.3,1133.3 1724.4,1122.6 1735.5,1099.2 1746.6,1082.8 1757.6,1080.9 1768.7,1123.8 1779.8,1142.7 1790.8,1149.7 1801.9,1132.6 1813.0,1113.7 1824.1,1093.5 1835.1,1075.3 1846.2,1091.0 1857.3,1123.8 1868.3,1146.5 1879.4,1138.3 1890.5,1130.1 1901.6,1104.3 1912.6,1072.1 1923.7,1068.9 1934.8,1115.0 1945.8,1154.1 1956.9,1157.2 1968.0,1125.1 1979.1,1099.2 1990.1,1072.7 2001.2,1072.1 2012.3,1105.5 2023.4,1145.3 2034.4,1156.0 2045.5,1140.8 2056.6,1119.4 2067.6,1094.2 2078.7,1087.2 2089.8,1098.6 2100.9,1142.7 2111.9,1171.1 2123.0,1152.8 2134.1,1127.0 2145.1,1106.8 2156.2,1102.4 2167.3,1096.7 2178.4,1127.0" fill="none" stroke="#CC9900" stroke-width="1.6" stroke-linejoin="round"/>
<g fill="#CC9900">
<use href="#m5" x="185.4" y="1232.3"/>
<use href="#m5" x="196.5" y="1224.7"/>
<use href="#m5" x="207.5" y="1221.6"/>
<use href="#m5" x="218.6" y="1215.3"/>
<use href="#m5" x="229.7" y="1209.0"/>
<use href="#m5" x="240.8" y="1202.7"/>
<use href="#m5" x="251.8" y="1193.8"/>
<use href="#m5" x="262.9" y="1185.6"/>
<use href="#m5" x="274.0" y="1174.9"/>
<use href="#m5" x="285.0" y="1168.6"/>
<use href="#m5" x="296.1" y="1163.6"/>
<use href="#m5" x="307.2" y="1152.8"/>
<use href="#m5" x="318.3" y="1142.7"/>
<use href="#m5" x="329.3" y="1133.3"/>
<use href="#m5" x="340.4" y="1128.2"/>
<use href="#m5" x="351.5" y="1120.7"/>
<use href="#m5" x="362.6" y="1112.5"/>
<use href="#m5" x="373.6" y="1101.7"/>
<use href="#m5" x="384.7" y="1092.3"/>
<use href="#m5" x="395.8" y="1086.0"/>
<use href="#m5" x="406.8" y="1078.4"/>
<use href="#m5" x="417.9" y="1104.3"/>
<use href="#m5" x="429.0" y="1168.0"/>
<use href="#m5" x="440.1" y="1185.6"/>
<use href="#m5" x="451.1" y="1192.6"/>
<use href="#m5" x="462.2" y="1185.0"/>
<use href="#m5" x="473.3" y="1168.0"/>
<use href="#m5" x="484.3" y="1156.0"/>
<use href="#m5" x="495.4" y="1142.1"/>
<use href="#m5" x="506.5" y="1130.1"/>
<use href="#m5" x="517.6" y="1109.9"/>
<use href="#m5" x="528.6" y="1093.5"/>
<use href="#m5" x="539.7" y="1078.4"/>
<use href="#m5" x="550.8" y="1067.1"/>
<use href="#m5" x="561.8" y="1089.1"/>
<use href="#m5" x="572.9" y="1149.0"/>
<use href="#m5" x="584.0" y="1172.4"/>
<use href="#m5" x="595.1" y="1154.1"/>
<use href="#m5" x="606.1" y="1142.1"/>
<use href="#m5" x="617.2" y="1134.5"/>
<use href="#m5" x="628.3" y="1120.7"/>
<use href="#m5" x="639.4" y="1102.4"/>
<use href="#m5" x="650.4" y="1076.5"/>
<use href="#m5" x="661.5" y="1058.9"/>
<use href="#m5" x="672.6" y="1087.9"/>
<use href="#m5" x="683.6" y="1137.7"/>
<use href="#m5" x="694.7" y="1143.4"/>
<use href="#m5" x="705.8" y="1142.1"/>
<use href="#m5" x="716.9" y="1122.6"/>
<use href="#m5" x="727.9" y="1099.2"/>
<use href="#m5" x="739.0" y="1075.3"/>
<use href="#m5" x="750.1" y="1060.7"/>
<use href="#m5" x="761.1" y="1086.0"/>
<use href="#m5" x="772.2" y="1142.1"/>
<use href="#m5" x="783.3" y="1142.1"/>
<use href="#m5" x="794.4" y="1130.1"/>
<use href="#m5" x="805.4" y="1106.8"/>
<use href="#m5" x="816.5" y="1093.5"/>
<use href="#m5" x="827.6" y="1084.1"/>
<use href="#m5" x="838.6" y="1086.0"/>
<use href="#m5" x="849.7" y="1092.3"/>
<use href="#m5" x="860.8" y="1139.0"/>
<use href="#m5" x="871.9" y="1136.4"/>
<use href="#m5" x="882.9" y="1127.0"/>
<use href="#m5" x="894.0" y="1109.9"/>
<use href="#m5" x="905.1" y="1099.2"/>
<use href="#m5" x="916.2" y="1089.1"/>
<use href="#m5" x="927.2" y="1078.4"/>
<use href="#m5" x="938.3" y="1125.1"/>
<use href="#m5" x="949.4" y="1143.4"/>
<use href="#m5" x="960.4" y="1144.6"/>
<use href="#m5" x="971.5" y="1136.4"/>
<use href="#m5" x="982.6" y="1120.7"/>
<use href="#m5" x="993.7" y="1101.7"/>
<use href="#m5" x="1004.7" y="1078.4"/>
<use href="#m5" x="1015.8" y="1109.9"/>
<use href="#m5" x="1026.9" y="1142.1"/>
<use href="#m5" x="1037.9" y="1142.7"/>
<use href="#m5" x="1049.0" y="1133.3"/>
<use href="#m5" x="1060.1" y="1120.7"/>
<use href="#m5" x="1071.2" y="1104.9"/>
<use href="#m5" x="1082.2" y="1079.0"/>
<use href="#m5" x="1093.3" y="1089.8"/>
<use href="#m5" x="1104.4" y="1130.1"/>
<use href="#m5" x="1115.4" y="1142.7"/>
<use href="#m5" x="1126.5" y="1137.7"/>
<use href="#m5" x="1137.6" y="1130.1"/>
<use href="#m5" x="1148.7" y="1114.4"/>
<use href="#m5" x="1159.7" y="1098.6"/>
<use href="#m5" x="1170.8" y="1062.6"/>
<use href="#m5" x="1181.9" y="1086.6"/>
<use href="#m5" x="1193.0" y="1130.1"/>
<use href="#m5" x="1204.0" y="1145.3"/>
<use href="#m5" x="1215.1" y="1142.1"/>
<use href="#m5" x="1226.2" y="1127.0"/>
<use href="#m5" x="1237.2" y="1111.2"/>
<use href="#m5" x="1248.3" y="1087.2"/>
<use href="#m5" x="1259.4" y="1071.5"/>
<use href="#m5" x="1270.5" y="1106.8"/>
<use href="#m5" x="1281.5" y="1146.5"/>
<use href="#m5" x="1292.6" y="1145.9"/>
<use href="#m5" x="1303.7" y="1136.4"/>
<use href="#m5" x="1314.7" y="1117.5"/>
<use href="#m5" x="1325.8" y="1092.3"/>
<use href="#m5" x="1336.9" y="1065.8"/>
<use href="#m5" x="1348.0" y="1061.4"/>
<use href="#m5" x="1359.0" y="1114.4"/>
<use href="#m5" x="1370.1" y="1130.1"/>
<use href="#m5" x="1381.2" y="1135.8"/>
<use href="#m5" x="1392.2" y="1130.1"/>
<use href="#m5" x="1403.3" y="1109.9"/>
<use href="#m5" x="1414.4" y="1079.7"/>
<use href="#m5" x="1425.5" y="1062.0"/>
<use href="#m5" x="1436.5" y="1090.4"/>
<use href="#m5" x="1447.6" y="1134.5"/>
<use href="#m5" x="1458.7" y="1146.5"/>
<use href="#m5" x="1469.8" y="1130.1"/>
<use href="#m5" x="1480.8" y="1116.2"/>
<use href="#m5" x="1491.9" y="1098.6"/>
<use href="#m5" x="1503.0" y="1070.2"/>
<use href="#m5" x="1514.0" y="1072.1"/>
<use href="#m5" x="1525.1" y="1109.9"/>
<use href="#m5" x="1536.2" y="1130.1"/>
<use href="#m5" x="1547.3" y="1130.1"/>
<use href="#m5" x="1558.3" y="1116.2"/>
<use href="#m5" x="1569.4" y="1099.2"/>
<use href="#m5" x="1580.5" y="1080.9"/>
<use href="#m5" x="1591.5" y="1073.4"/>
<use href="#m5" x="1602.6" y="1111.8"/>
<use href="#m5" x="1613.7" y="1136.4"/>
<use href="#m5" x="1624.8" y="1136.4"/>
<use href="#m5" x="1635.8" y="1128.2"/>
<use href="#m5" x="1646.9" y="1109.9"/>
<use href="#m5" x="1658.0" y="1090.4"/>
<use href="#m5" x="1669.0" y="1078.4"/>
<use href="#m5" x="1680.1" y="1101.1"/>
<use href="#m5" x="1691.2" y="1133.3"/>
<use href="#m5" x="1702.3" y="1136.4"/>
<use href="#m5" x="1713.3" y="1133.3"/>
<use href="#m5" x="1724.4" y="1122.6"/>
<use href="#m5" x="1735.5" y="1099.2"/>
<use href="#m5" x="1746.6" y="1082.8"/>
<use href="#m5" x="1757.6" y="1080.9"/>
<use href="#m5" x="1768.7" y="1123.8"/>
<use href="#m5" x="1779.8" y="1142.7"/>
<use href="#m5" x="1790.8" y="1149.7"/>
<use href="#m5" x="1801.9" y="1132.6"/>
<use href="#m5" x="1813.0" y="1113.7"/>
<use href="#m5" x="1824.1" y="1093.5"/>
<use href="#m5" x="1835.1" y="1075.3"/>
<use href="#m5" x="1846.2" y="1091.0"/>
<use href="#m5" x="1857.3" y="1123.8"/>
<use href="#m5" x="1868.3" y="1146.5"/>
<use href="#m5" x="1879.4" y="1138.3"/>
<use href="#m5" x="1890.5" y="1130.1"/>
<use href="#m5" x="1901.6" y="1104.3"/>
<use href="#m5" x="1912.6" y="1072.1"/>
<use href="#m5" x="1923.7" y="1068.9"/>
<use href="#m5" x="1934.8" y="1115.0"/>
<use href="#m5" x="1945.8" y="1154.1"/>
<use href="#m5" x="1956.9" y="1157.2"/>
<use href="#m5" x="1968.0" y="1125.1"/>
<use href="#m5" x="1979.1" y="1099.2"/>
<use href="#m5" x="1990.1" y="1072.7"/>
<use href="#m5" x="2001.2" y="1072.1"/>
<use href="#m5" x="2012.3" y="1105.5"/>
<use href="#m5" x="2023.4" y="1145.3"/>
<use href="#m5" x="2034.4" y="1156.0"/>
<use href="#m5" x="2045.5" y="1140.8"/>
<use href="#m5" x="2056.6" y="1119.4"/>
<use href="#m5" x="2067.6" y="1094.2"/>
<use href="#m5" x="2078.7" y="1087.2"/>
<use href="#m5" x="2089.8" y="1098.6"/>
<use href="#m5" x="2100.9" y="1142.7"/>
<use href="#m5" x="2111.9" y="1171.1"/>
<use href="#m5" x="2123.0" y="1152.8"/>
<use href="#m5" x="2134.1" y="1127.0"/>
<use href="#m5" x="2145.1" y="1106.8"/>
<use href="#m5" x="2156.2" y="1102.4"/>
<use href="#m5" x="2167.3" y="1096.7"/>
<use href="#m5" x="2178.4" y="1127.0"/>
</g>
<path d="M185.4,1224.7 196.5,1224.7 207.5,1224.7 218.6,1226.6 229.7,1210.9 240.8,1207.1 251.8,1205.8 262.9,1200.8 274.0,1189.4 285.0,1178.1 296.1,1181.2 307.2,1159.8 318.3,1148.4 329.3,1180.6 340.4,1177.4 351.5,1165.4 362.6,1159.1 373.6,1145.9 384.7,1142.1 395.8,1132.0 406.8,1125.1 417.9,1124.4 429.0,1180.0 440.1,1218.4 451.1,1218.4 462.2,1223.5 473.3,1204.5 484.3,1185.0 495.4,1168.0 506.5,1161.7 517.6,1144.6 528.6,1120.7 539.7,1113.7 550.8,1111.8 561.8,1105.5 572.9,1148.4 584.0,1186.3 595.1,1174.3 606.1,1157.2 617.2,1156.0 628.3,1135.8 639.4,1120.7 650.4,1098.0 661.5,1062.6 672.6,1065.8 683.6,1130.1 694.7,1150.9 705.8,1150.9 716.9,1140.8 727.9,1105.5 739.0,1075.3 750.1,1067.7 761.1,1069.6 772.2,1127.0 783.3,1150.9 794.4,1135.8 805.4,1120.7 816.5,1105.5 827.6,1101.1 838.6,1078.4 849.7,1084.1 860.8,1128.9 871.9,1132.6 882.9,1127.0 894.0,1115.0 905.1,1111.2 916.2,1089.1 927.2,1061.4 938.3,1102.4 949.4,1135.8 960.4,1142.1 971.5,1127.0 982.6,1117.5 993.7,1104.3 1004.7,1070.2 1015.8,1080.9 1026.9,1135.8 1037.9,1143.4 1049.0,1135.8 1060.1,1128.2 1071.2,1111.8 1082.2,1072.7 1093.3,1058.2 1104.4,1106.8 1115.4,1138.3 1126.5,1142.1 1137.6,1135.8 1148.7,1123.8 1159.7,1093.5 1170.8,1055.1 1181.9,1052.5 1193.0,1109.3 1204.0,1147.2 1215.1,1136.4 1226.2,1123.8 1237.2,1114.4 1248.3,1082.8 1259.4,1054.4 1270.5,1074.6 1281.5,1125.1 1292.6,1139.6 1303.7,1126.3 1314.7,1111.2 1325.8,1079.7 1336.9,1060.7 1348.0,1032.4 1359.0,1077.1 1370.1,1119.4 1381.2,1126.3 1392.2,1120.0 1403.3,1098.6 1414.4,1073.4 1425.5,1041.8 1436.5,1051.3 1447.6,1116.2 1458.7,1124.4 1469.8,1116.9 1480.8,1104.3 1491.9,1092.3 1503.0,1067.1 1514.0,1041.8 1525.1,1087.9 1536.2,1120.7 1547.3,1117.5 1558.3,1104.3 1569.4,1091.7 1580.5,1073.4 1591.5,1040.6 1602.6,1084.1 1613.7,1123.8 1624.8,1131.4 1635.8,1123.8 1646.9,1111.2 1658.0,1092.3 1669.0,1067.1 1680.1,1057.0 1691.2,1117.5 1702.3,1137.1 1713.3,1128.2 1724.4,1108.7 1735.5,1098.6 1746.6,1068.9 1757.6,1048.1 1768.7,1094.2 1779.8,1135.2 1790.8,1132.6 1801.9,1123.8 1813.0,1104.9 1824.1,1079.7 1835.1,1058.2 1846.2,1053.8 1857.3,1106.8 1868.3,1125.1 1879.4,1121.3 1890.5,1114.4 1901.6,1094.2 1912.6,1058.9 1923.7,1035.5 1934.8,1084.7 1945.8,1135.8 1956.9,1140.8 1968.0,1106.8 1979.1,1079.7 1990.1,1050.7 2001.2,1047.5 2012.3,1067.1 2023.4,1128.2 2034.4,1145.9 2045.5,1125.1 2056.6,1109.9 2067.6,1086.0 2078.7,1079.0 2089.8,1069.6 2100.9,1116.2 2111.9,1152.8 2123.0,1137.7 2134.1,1109.9 2145.1,1092.3 2156.2,1093.5 2167.3,1065.8 2178.4,1088.5" fill="none" stroke="#00CBCC" stroke-width="1.6" stroke-linejoin="round"/>
<g fill="#00CBCC">
<use href="#m6" x="185.4" y="1224.7"/>
<use href="#m6" x="196.5" y="1224.7"/>
<use href="#m6" x="207.5" y="1224.7"/>
<use href="#m6" x="218.6" y="1226.6"/>
<use href="#m6" x="229.7" y="1210.9"/>
<use href="#m6" x="240.8" y="1207.1"/>
<use href="#m6" x="251.8" y="1205.8"/>
<use href="#m6" x="262.9" y="1200.8"/>
<use href="#m6" x="274.0" y="1189.4"/>
<use href="#m6" x="285.0" y="1178.1"/>
<use href="#m6" x="296.1" y="1181.2"/>
<use href="#m6" x="307.2" y="1159.8"/>
<use href="#m6" x="318.3" y="1148.4"/>
<use href="#m6" x="329.3" y="1180.6"/>
<use href="#m6" x="340.4" y="1177.4"/>
<use href="#m6" x="351.5" y="1165.4"/>
<use href="#m6" x="362.6" y="1159.1"/>
<use href="#m6" x="373.6" y="1145.9"/>
<use href="#m6" x="384.7" y="1142.1"/>
<use href="#m6" x="395.8" y="1132.0"/>
<use href="#m6" x="406.8" y="1125.1"/>
<use href="#m6" x="417.9" y="1124.4"/>
<use href="#m6" x="429.0" y="1180.0"/>
<use href="#m6" x="440.1" y="1218.4"/>
<use href="#m6" x="451.1" y="1218.4"/>
<use href="#m6" x="462.2" y="1223.5"/>
<use href="#m6" x="473.3" y="1204.5"/>
<use href="#m6" x="484.3" y="1185.0"/>
<use href="#m6" x="495.4" y="1168.0"/>
<use href="#m6" x="506.5" y="1161.7"/>
<use href="#m6" x="517.6" y="1144.6"/>
<use href="#m6" x="528.6" y="1120.7"/>
<use href="#m6" x="539.7" y="1113.7"/>
<use href="#m6" x="550.8" y="1111.8"/>
<use href="#m6" x="561.8" y="1105.5"/>
<use href="#m6" x="572.9" y="1148.4"/>
<use href="#m6" x="584.0" y="1186.3"/>
<use href="#m6" x="595.1" y="1174.3"/>
<use href="#m6" x="606.1" y="1157.2"/>
<use href="#m6" x="617.2" y="1156.0"/>
<use href="#m6" x="628.3" y="1135.8"/>
<use href="#m6" x="639.4" y="1120.7"/>
<use href="#m6" x="650.4" y="1098.0"/>
<use href="#m6" x="661.5" y="1062.6"/>
<use href="#m6" x="672.6" y="1065.8"/>
<use href="#m6" x="683.6" y="1130.1"/>
<use href="#m6" x="694.7" y="1150.9"/>
<use href="#m6" x="705.8" y="1150.9"/>
<use href="#m6" x="716.9" y="1140.8"/>
<use href="#m6" x="727.9" y="1105.5"/>
<use href="#m6" x="739.0" y="1075.3"/>
<use href="#m6" x="750.1" y="1067.7"/>
<use href="#m6" x="761.1" y="1069.6"/>
<use href="#m6" x="772.2" y="1127.0"/>
<use href="#m6" x="783.3" y="1150.9"/>
<use href="#m6" x="794.4" y="1135.8"/>
<use href="#m6" x="805.4" y="1120.7"/>
<use href="#m6" x="816.5" y="1105.5"/>
<use href="#m6" x="827.6" y="1101.1"/>
<use href="#m6" x="838.6" y="1078.4"/>
<use href="#m6" x="849.7" y="1084.1"/>
<use href="#m6" x="860.8" y="1128.9"/>
<use href="#m6" x="871.9" y="1132.6"/>
<use href="#m6" x="882.9" y="1127.0"/>
<use href="#m6" x="894.0" y="1115.0"/>
<use href="#m6" x="905.1" y="1111.2"/>
<use href="#m6" x="916.2" y="1089.1"/>
<use href="#m6" x="927.2" y="1061.4"/>
<use href="#m6" x="938.3" y="1102.4"/>
<use href="#m6" x="949.4" y="1135.8"/>
<use href="#m6" x="960.4" y="1142.1"/>
<use href="#m6" x="971.5" y="1127.0"/>
<use href="#m6" x="982.6" y="1117.5"/>
<use href="#m6" x="993.7" y="1104.3"/>
<use href="#m6" x="1004.7" y="1070.2"/>
<use href="#m6" x="1015.8" y="1080.9"/>
<use href="#m6" x="1026.9" y="1135.8"/>
<use href="#m6" x="1037.9" y="1143.4"/>
<use href="#m6" x="1049.0" y="1135.8"/>
<use href="#m6" x="1060.1" y="1128.2"/>
<use href="#m6" x="1071.2" y="1111.8"/>
<use href="#m6" x="1082.2" y="1072.7"/>
<use href="#m6" x="1093.3" y="1058.2"/>
<use href="#m6" x="1104.4" y="1106.8"/>
<use href="#m6" x="1115.4" y="1138.3"/>
<use href="#m6" x="1126.5" y="1142.1"/>
<use href="#m6" x="1137.6" y="1135.8"/>
<use href="#m6" x="1148.7" y="1123.8"/>
<use href="#m6" x="1159.7" y="1093.5"/>
<use href="#m6" x="1170.8" y="1055.1"/>
<use href="#m6" x="1181.9" y="1052.5"/>
<use href="#m6" x="1193.0" y="1109.3"/>
<use href="#m6" x="1204.0" y="1147.2"/>
<use href="#m6" x="1215.1" y="1136.4"/>
<use href="#m6" x="1226.2" y="1123.8"/>
<use href="#m6" x="1237.2" y="1114.4"/>
<use href="#m6" x="1248.3" y="1082.8"/>
<use href="#m6" x="1259.4" y="1054.4"/>
<use href="#m6" x="1270.5" y="1074.6"/>
<use href="#m6" x="1281.5" y="1125.1"/>
<use href="#m6" x="1292.6" y="1139.6"/>
<use href="#m6" x="1303.7" y="1126.3"/>
<use href="#m6" x="1314.7" y="1111.2"/>
<use href="#m6" x="1325.8" y="1079.7"/>
<use href="#m6" x="1336.9" y="1060.7"/>
<use href="#m6" x="1348.0" y="1032.4"/>
<use href="#m6" x="1359.0" y="1077.1"/>
<use href="#m6" x="1370.1" y="1119.4"/>
<use href="#m6" x="1381.2" y="1126.3"/>
<use href="#m6" x="1392.2" y="1120.0"/>
<use href="#m6" x="1403.3" y="1098.6"/>
<use href="#m6" x="1414.4" y="1073.4"/>
<use href="#m6" x="1425.5" y="1041.8"/>
<use href="#m6" x="1436.5" y="1051.3"/>
<use href="#m6" x="1447.6" y="1116.2"/>
<use href="#m6" x="1458.7" y="1124.4"/>
<use href="#m6" x="1469.8" y="1116.9"/>
<use href="#m6" x="1480.8" y="1104.3"/>
<use href="#m6" x="1491.9" y="1092.3"/>
<use href="#m6" x="1503.0" y="1067.1"/>
<use href="#m6" x="1514.0" y="1041.8"/>
<use href="#m6" x="1525.1" y="1087.9"/>
<use href="#m6" x="1536.2" y="1120.7"/>
<use href="#m6" x="1547.3" y="1117.5"/>
<use href="#m6" x="1558.3" y="1104.3"/>
<use href="#m6" x="1569.4" y="1091.7"/>
<use href="#m6" x="1580.5" y="1073.4"/>
<use href="#m6" x="1591.5" y="1040.6"/>
<use href="#m6" x="1602.6" y="1084.1"/>
<use href="#m6" x="1613.7" y="1123.8"/>
<use href="#m6" x="1624.8" y="1131.4"/>
<use href="#m6" x="1635.8" y="1123.8"/>
<use href="#m6" x="1646.9" y="1111.2"/>
<use href="#m6" x="1658.0" y="1092.3"/>
<use href="#m6" x="1669.0" y="1067.1"/>
<use href="#m6" x="1680.1" y="1057.0"/>
<use href="#m6" x="1691.2" y="1117.5"/>
<use href="#m6" x="1702.3" y="1137.1"/>
<use href="#m6" x="1713.3" y="1128.2"/>
<use href="#m6" x="1724.4" y="1108.7"/>
<use href="#m6" x="1735.5" y="1098.6"/>
<use href="#m6" x="1746.6" y="1068.9"/>
<use href="#m6" x="1757.6" y="1048.1"/>
<use href="#m6" x="1768.7" y="1094.2"/>
<use href="#m6" x="1779.8" y="1135.2"/>
<use href="#m6" x="1790.8" y="1132.6"/>
<use href="#m6" x="1801.9" y="1123.8"/>
<use href="#m6" x="1813.0" y="1104.9"/>
<use href="#m6" x="1824.1" y="1079.7"/>
<use href="#m6" x="1835.1" y="1058.2"/>
<use href="#m6" x="1846.2" y="1053.8"/>
<use href="#m6" x="1857.3" y="1106.8"/>
<use href="#m6" x="1868.3" y="1125.1"/>
<use href="#m6" x="1879.4" y="1121.3"/>
<use href="#m6" x="1890.5" y="1114.4"/>
<use href="#m6" x="1901.6" y="1094.2"/>
<use href="#m6" x="1912.6" y="1058.9"/>
<use href="#m6" x="1923.7" y="1035.5"/>
<use href="#m6" x="1934.8" y="1084.7"/>
<use href="#m6" x="1945.8" y="1135.8"/>
<use href="#m6" x="1956.9" y="1140.8"/>
<use href="#m6" x="1968.0" y="1106.8"/>
<use href="#m6" x="1979.1" y="1079.7"/>
<use href="#m6" x="1990.1" y="1050.7"/>
<use href="#m6" x="2001.2" y="1047.5"/>
<use href="#m6" x="2012.3" y="1067.1"/>
<use href="#m6" x="2023.4" y="1128.2"/>
<use href="#m6" x="2034.4" y="1145.9"/>
<use href="#m6" x="2045.5" y="1125.1"/>
<use href="#m6" x="2056.6" y="1109.9"/>
<use href="#m6" x="2067.6" y="1086.0"/>
<use href="#m6" x="2078.7" y="1079.0"/>
<use href="#m6" x="2089.8" y="1069.6"/>
<use href="#m6" x="2100.9" y="1116.2"/>
<use href="#m6" x="2111.9" y="1152.8"/>
<use href="#m6" x="2123.0" y="1137.7"/>
<use href="#m6" x="2134.1" y="1109.9"/>
<use href="#m6" x="2145.1" y="1092.3"/>
<use href="#m6" x="2156.2" y="1093.5"/>
<use href="#m6" x="2167.3" y="1065.8"/>
<use href="#m6" x="2178.4" y="1088.5"/>
</g>
<path d="M185.4,1224.7 196.5,1219.7 207.5,1214.6 218.6,1209.0 229.7,1201.4 240.8,1195.7 251.8,1185.6 262.9,1180.6 274.0,1171.1 285.0,1162.9 296.1,1159.1 307.2,1142.7 318.3,1133.9 329.3,1121.3 340.4,1113.1 351.5,1111.2 362.6,1104.3 373.6,1099.2 384.7,1091.0 395.8,1076.5 406.8,1068.9 417.9,1086.0 429.0,1162.9 440.1,1191.3 451.1,1185.0 462.2,1180.0 473.3,1164.2 484.3,1150.3 495.4,1137.1 506.5,1130.1 517.6,1106.2 528.6,1084.1 539.7,1072.1 550.8,1072.1 561.8,1070.2 572.9,1142.1 584.0,1181.2 595.1,1162.9 606.1,1145.9 617.2,1142.1 628.3,1128.9 639.4,1112.5 650.4,1082.8 661.5,1049.4 672.6,1083.5 683.6,1148.4 694.7,1161.7 705.8,1157.2 716.9,1135.8 727.9,1097.3 739.0,1068.3 750.1,1055.7 761.1,1082.2 772.2,1150.9 783.3,1157.9 794.4,1139.0 805.4,1109.9 816.5,1099.2 827.6,1087.2 838.6,1065.8 849.7,1108.1 860.8,1150.9 871.9,1145.3 882.9,1125.1 894.0,1119.4 905.1,1112.5 916.2,1079.0 927.2,1067.7 938.3,1135.8 949.4,1152.8 960.4,1152.2 971.5,1134.5 982.6,1117.5 993.7,1095.4 1004.7,1062.0 1015.8,1109.9 1026.9,1150.3 1037.9,1152.2 1049.0,1143.4 1060.1,1121.3 1071.2,1101.1 1082.2,1062.6 1093.3,1078.4 1104.4,1135.2 1115.4,1150.3 1126.5,1146.5 1137.6,1131.4 1148.7,1115.0 1159.7,1083.5 1170.8,1044.3 1181.9,1078.4 1193.0,1138.3 1204.0,1156.6 1215.1,1148.4 1226.2,1123.2 1237.2,1106.8 1248.3,1072.1 1259.4,1049.4 1270.5,1106.2 1281.5,1149.7 1292.6,1152.8 1303.7,1138.3 1314.7,1123.2 1325.8,1091.0 1336.9,1051.9 1348.0,1041.8 1359.0,1110.6 1370.1,1142.1 1381.2,1139.6 1392.2,1130.8 1403.3,1098.6 1414.4,1062.6 1425.5,1038.0 1436.5,1080.9 1447.6,1140.8 1458.7,1140.8 1469.8,1125.1 1480.8,1109.9 1491.9,1090.4 1503.0,1053.8 1514.0,1055.1 1525.1,1115.0 1536.2,1134.5 1547.3,1125.1 1558.3,1106.8 1569.4,1091.0 1580.5,1068.9 1591.5,1050.0 1602.6,1116.2 1613.7,1144.6 1624.8,1142.7 1635.8,1120.0 1646.9,1101.1 1658.0,1078.4 1669.0,1056.3 1680.1,1084.7 1691.2,1139.0 1702.3,1148.4 1713.3,1137.1 1724.4,1115.6 1735.5,1082.8 1746.6,1065.2 1757.6,1052.5 1768.7,1120.7 1779.8,1152.2 1790.8,1142.1 1801.9,1123.8 1813.0,1102.4 1824.1,1082.8 1835.1,1055.7 1846.2,1075.9 1857.3,1131.4 1868.3,1142.7 1879.4,1130.1 1890.5,1113.7 1901.6,1087.2 1912.6,1052.5 1923.7,1039.3 1934.8,1113.7 1945.8,1150.9 1956.9,1150.9 1968.0,1115.0 1979.1,1084.7 1990.1,1054.4 2001.2,1043.1 2012.3,1093.5 2023.4,1152.2 2034.4,1153.5 2045.5,1131.4 2056.6,1109.3 2067.6,1079.0 2078.7,1069.6 2089.8,1072.1 2100.9,1147.2 2111.9,1167.3 2123.0,1146.5 2134.1,1115.6 2145.1,1091.0 2156.2,1083.5 2167.3,1063.9 2178.4,1116.9" fill="none" stroke="#7D4E4E" stroke-width="1.6" stroke-linejoin="round"/>
<g fill="#7D4E4E">
<use href="#m7" x="185.4" y="1224.7"/>
<use href="#m7" x="196.5" y="1219.7"/>
<use href="#m7" x="207.5" y="1214.6"/>
<use href="#m7" x="218.6" y="1209.0"/>
<use href="#m7" x="229.7" y="1201.4"/>
<use href="#m7" x="240.8" y="1195.7"/>
<use href="#m7" x="251.8" y="1185.6"/>
<use href="#m7" x="262.9" y="1180.6"/>
<use href="#m7" x="274.0" y="1171.1"/>
<use href="#m7" x="285.0" y="1162.9"/>
<use href="#m7" x="296.1" y="1159.1"/>
<use href="#m7" x="307.2" y="1142.7"/>
<use href="#m7" x="318.3" y="1133.9"/>
<use href="#m7" x="329.3" y="1121.3"/>
<use href="#m7" x="340.4" y="1113.1"/>
<use href="#m7" x="351.5" y="1111.2"/>
<use href="#m7" x="362.6" y="1104.3"/>
<use href="#m7" x="373.6" y="1099.2"/>
<use href="#m7" x="384.7" y="1091.0"/>
<use href="#m7" x="395.8" y="1076.5"/>
<use href="#m7" x="406.8" y="1068.9"/>
<use href="#m7" x="417.9" y="1086.0"/>
<use href="#m7" x="429.0" y="1162.9"/>
<use href="#m7" x="440.1" y="1191.3"/>
<use href="#m7" x="451.1" y="1185.0"/>
<use href="#m7" x="462.2" y="1180.0"/>
<use href="#m7" x="473.3" y="1164.2"/>
<use href="#m7" x="484.3" y="1150.3"/>
<use href="#m7" x="495.4" y="1137.1"/>
<use href="#m7" x="506.5" y="1130.1"/>
<use href="#m7" x="517.6" y="1106.2"/>
<use href="#m7" x="528.6" y="1084.1"/>
<use href="#m7" x="539.7" y="1072.1"/>
<use href="#m7" x="550.8" y="1072.1"/>
<use href="#m7" x="561.8" y="1070.2"/>
<use href="#m7" x="572.9" y="1142.1"/>
<use href="#m7" x="584.0" y="1181.2"/>
<use href="#m7" x="595.1" y="1162.9"/>
<use href="#m7" x="606.1" y="1145.9"/>
<use href="#m7" x="617.2" y="1142.1"/>
<use href="#m7" x="628.3" y="1128.9"/>
<use href="#m7" x="639.4" y="1112.5"/>
<use href="#m7" x="650.4" y="1082.8"/>
<use href="#m7" x="661.5" y="1049.4"/>
<use href="#m7" x="672.6" y="1083.5"/>
<use href="#m7" x="683.6" y="1148.4"/>
<use href="#m7" x="694.7" y="1161.7"/>
<use href="#m7" x="705.8" y="1157.2"/>
<use href="#m7" x="716.9" y="1135.8"/>
<use href="#m7" x="727.9" y="1097.3"/>
<use href="#m7" x="739.0" y="1068.3"/>
<use href="#m7" x="750.1" y="1055.7"/>
<use href="#m7" x="761.1" y="1082.2"/>
<use href="#m7" x="772.2" y="1150.9"/>
<use href="#m7" x="783.3" y="1157.9"/>
<use href="#m7" x="794.4" y="1139.0"/>
<use href="#m7" x="805.4" y="1109.9"/>
<use href="#m7" x="816.5" y="1099.2"/>
<use href="#m7" x="827.6" y="1087.2"/>
<use href="#m7" x="838.6" y="1065.8"/>
<use href="#m7" x="849.7" y="1108.1"/>
<use href="#m7" x="860.8" y="1150.9"/>
<use href="#m7" x="871.9" y="1145.3"/>
<use href="#m7" x="882.9" y="1125.1"/>
<use href="#m7" x="894.0" y="1119.4"/>
<use href="#m7" x="905.1" y="1112.5"/>
<use href="#m7" x="916.2" y="1079.0"/>
<use href="#m7" x="927.2" y="1067.7"/>
<use href="#m7" x="938.3" y="1135.8"/>
<use href="#m7" x="949.4" y="1152.8"/>
<use href="#m7" x="960.4" y="1152.2"/>
<use href="#m7" x="971.5" y="1134.5"/>
<use href="#m7" x="982.6" y="1117.5"/>
<use href="#m7" x="993.7" y="1095.4"/>
<use href="#m7" x="1004.7" y="1062.0"/>
<use href="#m7" x="1015.8" y="1109.9"/>
<use href="#m7" x="1026.9" y="1150.3"/>
<use href="#m7" x="1037.9" y="1152.2"/>
<use href="#m7" x="1049.0" y="1143.4"/>
<use href="#m7" x="1060.1" y="1121.3"/>
<use href="#m7" x="1071.2" y="1101.1"/>
<use href="#m7" x="1082.2" y="1062.6"/>
<use href="#m7" x="1093.3" y="1078.4"/>
<use href="#m7" x="1104.4" y="1135.2"/>
<use href="#m7" x="1115.4" y="1150.3"/>
<use href="#m7" x="1126.5" y="1146.5"/>
<use href="#m7" x="1137.6" y="1131.4"/>
<use href="#m7" x="1148.7" y="1115.0"/>
<use href="#m7" x="1159.7" y="1083.5"/>
<use href="#m7" x="1170.8" y="1044.3"/>
<use href="#m7" x="1181.9" y="1078.4"/>
<use href="#m7" x="1193.0" y="1138.3"/>
<use href="#m7" x="1204.0" y="1156.6"/>
<use href="#m7" x="1215.1" y="1148.4"/>
<use href="#m7" x="1226.2" y="1123.2"/>
<use href="#m7" x="1237.2" y="1106.8"/>
<use href="#m7" x="1248.3" y="1072.1"/>
<use href="#m7" x="1259.4" y="1049.4"/>
<use href="#m7" x="1270.5" y="1106.2"/>
<use href="#m7" x="1281.5" y="1149.7"/>
<use href="#m7" x="1292.6" y="1152.8"/>
<use href="#m7" x="1303.7" y="1138.3"/>
<use href="#m7" x="1314.7" y="1123.2"/>
<use href="#m7" x="1325.8" y="1091.0"/>
<use href="#m7" x="1336.9" y="1051.9"/>
<use href="#m7" x="1348.0" y="1041.8"/>
<use href="#m7" x="1359.0" y="1110.6"/>
<use href="#m7" x="1370.1" y="1142.1"/>
<use href="#m7" x="1381.2" y="1139.6"/>
<use href="#m7" x="1392.2" y="1130.8"/>
<use href="#m7" x="1403.3" y="1098.6"/>
<use href="#m7" x="1414.4" y="1062.6"/>
<use href="#m7" x="1425.5" y="1038.0"/>
<use href="#m7" x="1436.5" y="1080.9"/>
<use href="#m7" x="1447.6" y="1140.8"/>
<use href="#m7" x="1458.7" y="1140.8"/>
<use href="#m7" x="1469.8" y="1125.1"/>
<use href="#m7" x="1480.8" y="1109.9"/>
<use href="#m7" x="1491.9" y="1090.4"/>
<use href="#m7" x="1503.0" y="1053.8"/>
<use href="#m7" x="1514.0" y="1055.1"/>
<use href="#m7" x="1525.1" y="1115.0"/>
<use href="#m7" x="1536.2" y="1134.5"/>
<use href="#m7" x="1547.3" y="1125.1"/>
<use href="#m7" x="1558.3" y="1106.8"/>
<use href="#m7" x="1569.4" y="1091.0"/>
<use href="#m7" x="1580.5" y="1068.9"/>
<use href="#m7" x="1591.5" y="1050.0"/>
<use href="#m7" x="1602.6" y="1116.2"/>
<use href="#m7" x="1613.7" y="1144.6"/>
<use href="#m7" x="1624.8" y="1142.7"/>
<use href="#m7" x="1635.8" y="1120.0"/>
<use href="#m7" x="1646.9" y="1101.1"/>
<use href="#m7" x="1658.0" y="1078.4"/>
<use href="#m7" x="1669.0" y="1056.3"/>
<use href="#m7" x="1680.1" y="1084.7"/>
<use href="#m7" x="1691.2" y="1139.0"/>
<use href="#m7" x="1702.3" y="1148.4"/>
<use href="#m7" x="1713.3" y="1137.1"/>
<use href="#m7" x="1724.4" y="1115.6"/>
<use href="#m7" x="1735.5" y="1082.8"/>
<use href="#m7" x="1746.6" y="1065.2"/>
<use href="#m7" x="1757.6" y="1052.5"/>
<use href="#m7" x="1768.7" y="1120.7"/>
<use href="#m7" x="1779.8" y="1152.2"/>
<use href="#m7" x="1790.8" y="1142.1"/>
<use href="#m7" x="1801.9" y="1123.8"/>
<use href="#m7" x="1813.0" y="1102.4"/>
<use href="#m7" x="1824.1" y="1082.8"/>
<use href="#m7" x="1835.1" y="1055.7"/>
<use href="#m7" x="1846.2" y="1075.9"/>
<use href="#m7" x="1857.3" y="1131.4"/>
<use href="#m7" x="1868.3" y="1142.7"/>
<use href="#m7" x="1879.4" y="1130.1"/>
<use href="#m7" x="1890.5" y="1113.7"/>
<use href="#m7" x="1901.6" y="1087.2"/>
<use href="#m7" x="1912.6" y="1052.5"/>
<use href="#m7" x="1923.7" y="1039.3"/>
<use href="#m7" x="1934.8" y="1113.7"/>
<use href="#m7" x="1945.8" y="1150.9"/>
<use href="#m7" x="1956.9" y="1150.9"/>
<use href="#m7" x="1968.0" y="1115.0"/>
<use href="#m7" x="1979.1" y="1084.7"/>
<use href="#m7" x="1990.1" y="1054.4"/>
<use href="#m7" x="2001.2" y="1043.1"/>
<use href="#m7" x="2012.3" y="1093.5"/>
<use href="#m7" x="2023.4" y="1152.2"/>
<use href="#m7" x="2034.4" y="1153.5"/>
<use href="#m7" x="2045.5" y="1131.4"/>
<use href="#m7" x="2056.6" y="1109.3"/>
<use href="#m7" x="2067.6" y="1079.0"/>
<use href="#m7" x="2078.7" y="1069.6"/>
<use href="#m7" x="2089.8" y="1072.1"/>
<use href="#m7" x="2100.9" y="1147.2"/>
<use href="#m7" x="2111.9" y="1167.3"/>
<use href="#m7" x="2123.0" y="1146.5"/>
<use href="#m7" x="2134.1" y="1115.6"/>
<use href="#m7" x="2145.1" y="1091.0"/>
<use href="#m7" x="2156.2" y="1083.5"/>
<use href="#m7" x="2167.3" y="1063.9"/>
<use href="#m7" x="2178.4" y="1116.9"/>
</g>
<path d="M185.4,1219.7 196.5,1224.7 207.5,1226.0 218.6,1222.8 229.7,1217.8 240.8,1216.5 251.8,1212.1 262.9,1202.0 274.0,1195.7 285.0,1183.1 296.1,1174.3 307.2,1168.0 318.3,1147.2 329.3,1135.8 340.4,1138.3 351.5,1123.8 362.6,1113.7 373.6,1100.5 384.7,1096.7 395.8,1084.7 406.8,1070.8 417.9,1097.3 429.0,1134.5 440.1,1148.4 451.1,1149.0 462.2,1145.3 473.3,1139.0 484.3,1111.8 495.4,1084.1 506.5,1068.9 517.6,1072.7 528.6,1062.6 539.7,1061.4 550.8,1117.5 561.8,1133.9 572.9,1131.4 584.0,1128.9 595.1,1120.7 606.1,1104.3 617.2,1079.7 628.3,1042.5 639.4,1031.7 650.4,1103.0 661.5,1143.4 672.6,1143.4 683.6,1126.3 694.7,1091.7 705.8,1060.7 716.9,1043.7 727.9,1048.1 739.0,1102.4 750.1,1143.4 761.1,1131.4 772.2,1104.9 783.3,1087.9 794.4,1082.8 805.4,1075.3 816.5,1051.3 827.6,1091.0 838.6,1120.7 849.7,1116.2 860.8,1115.6 871.9,1108.7 882.9,1086.6 894.0,1053.8 905.1,1046.9 916.2,1111.8 927.2,1137.7 938.3,1137.7 949.4,1123.2 960.4,1091.7 971.5,1062.0 982.6,1050.0 993.7,1111.8 1004.7,1159.1 1015.8,1156.0 1026.9,1128.9 1037.9,1098.6 1049.0,1077.1 1060.1,1072.1 1071.2,1104.9 1082.2,1161.0 1093.3,1156.6 1104.4,1131.4 1115.4,1110.6 1126.5,1101.1 1137.6,1090.4 1148.7,1077.1 1159.7,1124.4 1170.8,1148.4 1181.9,1135.2 1193.0,1132.0 1204.0,1127.6 1215.1,1109.9 1226.2,1083.5 1237.2,1087.2 1248.3,1135.8 1259.4,1136.4 1270.5,1135.2 1281.5,1124.4 1292.6,1109.9 1303.7,1086.6 1314.7,1051.3 1325.8,1072.7 1336.9,1132.0 1348.0,1142.7 1359.0,1141.5 1370.1,1127.0 1381.2,1087.2 1392.2,1060.1 1403.3,1057.0 1414.4,1116.9 1425.5,1164.2 1436.5,1167.3 1447.6,1137.7 1458.7,1100.5 1469.8,1079.0 1480.8,1077.1 1491.9,1101.7 1503.0,1157.2 1514.0,1159.1 1525.1,1137.1 1536.2,1113.1 1547.3,1109.3 1558.3,1096.7 1569.4,1082.2 1580.5,1127.6 1591.5,1147.2 1602.6,1133.9 1613.7,1131.4 1624.8,1120.7 1635.8,1105.5 1646.9,1077.1 1658.0,1094.2 1669.0,1141.5 1680.1,1150.3 1691.2,1146.5 1702.3,1135.2 1713.3,1108.7 1724.4,1074.0 1735.5,1078.4 1746.6,1146.5 1757.6,1168.6 1768.7,1160.4 1779.8,1140.8 1790.8,1104.3 1801.9,1066.4 1813.0,1075.3 1824.1,1143.4 1835.1,1174.3 1846.2,1162.9 1857.3,1135.2 1868.3,1102.4 1879.4,1083.5 1890.5,1084.1 1901.6,1138.3 1912.6,1183.1 1923.7,1171.1 1934.8,1138.3 1945.8,1119.4 1956.9,1108.7 1968.0,1095.4 1979.1,1121.3 1990.1,1181.2 2001.2,1178.7 2012.3,1152.2 2023.4,1121.3 2034.4,1098.6 2045.5,1092.3 2056.6,1094.2 2067.6,1152.2 2078.7,1178.7 2089.8,1169.2 2100.9,1135.2 2111.9,1102.4 2123.0,1082.8 2134.1,1078.4 2145.1,1111.8 2156.2,1171.1 2167.3,1164.2 2178.4,1145.3" fill="none" stroke="#8E8E00" stroke-width="1.6" stroke-linejoin="round"/>
<g fill="#8E8E00">
<use href="#m8" x="185.4" y="1219.7"/>
<use href="#m8" x="196.5" y="1224.7"/>
<use href="#m8" x="207.5" y="1226.0"/>
<use href="#m8" x="218.6" y="1222.8"/>
<use href="#m8" x="229.7" y="1217.8"/>
<use href="#m8" x="240.8" y="1216.5"/>
<use href="#m8" x="251.8" y="1212.1"/>
<use href="#m8" x="262.9" y="1202.0"/>
<use href="#m8" x="274.0" y="1195.7"/>
<use href="#m8" x="285.0" y="1183.1"/>
<use href="#m8" x="296.1" y="1174.3"/>
<use href="#m8" x="307.2" y="1168.0"/>
<use href="#m8" x="318.3" y="1147.2"/>
<use href="#m8" x="329.3" y="1135.8"/>
<use href="#m8" x="340.4" y="1138.3"/>
<use href="#m8" x="351.5" y="1123.8"/>
<use href="#m8" x="362.6" y="1113.7"/>
<use href="#m8" x="373.6" y="1100.5"/>
<use href="#m8" x="384.7" y="1096.7"/>
<use href="#m8" x="395.8" y="1084.7"/>
<use href="#m8" x="406.8" y="1070.8"/>
<use href="#m8" x="417.9" y="1097.3"/>
<use href="#m8" x="429.0" y="1134.5"/>
<use href="#m8" x="440.1" y="1148.4"/>
<use href="#m8" x="451.1" y="1149.0"/>
<use href="#m8" x="462.2" y="1145.3"/>
<use href="#m8" x="473.3" y="1139.0"/>
<use href="#m8" x="484.3" y="1111.8"/>
<use href="#m8" x="495.4" y="1084.1"/>
<use href="#m8" x="506.5" y="1068.9"/>
<use href="#m8" x="517.6" y="1072.7"/>
<use href="#m8" x="528.6" y="1062.6"/>
<use href="#m8" x="539.7" y="1061.4"/>
<use href="#m8" x="550.8" y="1117.5"/>
<use href="#m8" x="561.8" y="1133.9"/>
<use href="#m8" x="572.9" y="1131.4"/>
<use href="#m8" x="584.0" y="1128.9"/>
<use href="#m8" x="595.1" y="1120.7"/>
<use href="#m8" x="606.1" y="1104.3"/>
<use href="#m8" x="617.2" y="1079.7"/>
<use href="#m8" x="628.3" y="1042.5"/>
<use href="#m8" x="639.4" y="1031.7"/>
<use href="#m8" x="650.4" y="1103.0"/>
<use href="#m8" x="661.5" y="1143.4"/>
<use href="#m8" x="672.6" y="1143.4"/>
<use href="#m8" x="683.6" y="1126.3"/>
<use href="#m8" x="694.7" y="1091.7"/>
<use href="#m8" x="705.8" y="1060.7"/>
<use href="#m8" x="716.9" y="1043.7"/>
<use href="#m8" x="727.9" y="1048.1"/>
<use href="#m8" x="739.0" y="1102.4"/>
<use href="#m8" x="750.1" y="1143.4"/>
<use href="#m8" x="761.1" y="1131.4"/>
<use href="#m8" x="772.2" y="1104.9"/>
<use href="#m8" x="783.3" y="1087.9"/>
<use href="#m8" x="794.4" y="1082.8"/>
<use href="#m8" x="805.4" y="1075.3"/>
<use href="#m8" x="816.5" y="1051.3"/>
<use href="#m8" x="827.6" y="1091.0"/>
<use href="#m8" x="838.6" y="1120.7"/>
<use href="#m8" x="849.7" y="1116.2"/>
<use href="#m8" x="860.8" y="1115.6"/>
<use href="#m8" x="871.9" y="1108.7"/>
<use href="#m8" x="882.9" y="1086.6"/>
<use href="#m8" x="894.0" y="1053.8"/>
<use href="#m8" x="905.1" y="1046.9"/>
<use href="#m8" x="916.2" y="1111.8"/>
<use href="#m8" x="927.2" y="1137.7"/>
<use href="#m8" x="938.3" y="1137.7"/>
<use href="#m8" x="949.4" y="1123.2"/>
<use href="#m8" x="960.4" y="1091.7"/>
<use href="#m8" x="971.5" y="1062.0"/>
<use href="#m8" x="982.6" y="1050.0"/>
<use href="#m8" x="993.7" y="1111.8"/>
<use href="#m8" x="1004.7" y="1159.1"/>
<use href="#m8" x="1015.8" y="1156.0"/>
<use href="#m8" x="1026.9" y="1128.9"/>
<use href="#m8" x="1037.9" y="1098.6"/>
<use href="#m8" x="1049.0" y="1077.1"/>
<use href="#m8" x="1060.1" y="1072.1"/>
<use href="#m8" x="1071.2" y="1104.9"/>
<use href="#m8" x="1082.2" y="1161.0"/>
<use href="#m8" x="1093.3" y="1156.6"/>
<use href="#m8" x="1104.4" y="1131.4"/>
<use href="#m8" x="1115.4" y="1110.6"/>
<use href="#m8" x="1126.5" y="1101.1"/>
<use href="#m8" x="1137.6" y="1090.4"/>
<use href="#m8" x="1148.7" y="1077.1"/>
<use href="#m8" x="1159.7" y="1124.4"/>
<use href="#m8" x="1170.8" y="1148.4"/>
<use href="#m8" x="1181.9" y="1135.2"/>
<use href="#m8" x="1193.0" y="1132.0"/>
<use href="#m8" x="1204.0" y="1127.6"/>
<use href="#m8" x="1215.1" y="1109.9"/>
<use href="#m8" x="1226.2" y="1083.5"/>
<use href="#m8" x="1237.2" y="1087.2"/>
<use href="#m8" x="1248.3" y="1135.8"/>
<use href="#m8" x="1259.4" y="1136.4"/>
<use href="#m8" x="1270.5" y="1135.2"/>
<use href="#m8" x="1281.5" y="1124.4"/>
<use href="#m8" x="1292.6" y="1109.9"/>
<use href="#m8" x="1303.7" y="1086.6"/>
<use href="#m8" x="1314.7" y="1051.3"/>
<use href="#m8" x="1325.8" y="1072.7"/>
<use href="#m8" x="1336.9" y="1132.0"/>
<use href="#m8" x="1348.0" y="1142.7"/>
<use href="#m8" x="1359.0" y="1141.5"/>
<use href="#m8" x="1370.1" y="1127.0"/>
<use href="#m8" x="1381.2" y="1087.2"/>
<use href="#m8" x="1392.2" y="1060.1"/>
<use href="#m8" x="1403.3" y="1057.0"/>
<use href="#m8" x="1414.4" y="1116.9"/>
<use href="#m8" x="1425.5" y="1164.2"/>
<use href="#m8" x="1436.5" y="1167.3"/>
<use href="#m8" x="1447.6" y="1137.7"/>
<use href="#m8" x="1458.7" y="1100.5"/>
<use href="#m8" x="1469.8" y="1079.0"/>
<use href="#m8" x="1480.8" y="1077.1"/>
<use href="#m8" x="1491.9" y="1101.7"/>
<use href="#m8" x="1503.0" y="1157.2"/>
<use href="#m8" x="1514.0" y="1159.1"/>
<use href="#m8" x="1525.1" y="1137.1"/>
<use href="#m8" x="1536.2" y="1113.1"/>
<use href="#m8" x="1547.3" y="1109.3"/>
<use href="#m8" x="1558.3" y="1096.7"/>
<use href="#m8" x="1569.4" y="1082.2"/>
<use href="#m8" x="1580.5" y="1127.6"/>
<use href="#m8" x="1591.5" y="1147.2"/>
<use href="#m8" x="1602.6" y="1133.9"/>
<use href="#m8" x="1613.7" y="1131.4"/>
<use href="#m8" x="1624.8" y="1120.7"/>
<use href="#m8" x="1635.8" y="1105.5"/>
<use href="#m8" x="1646.9" y="1077.1"/>
<use href="#m8" x="1658.0" y="1094.2"/>
<use href="#m8" x="1669.0" y="1141.5"/>
<use href="#m8" x="1680.1" y="1150.3"/>
<use href="#m8" x="1691.2" y="1146.5"/>
<use href="#m8" x="1702.3" y="1135.2"/>
<use href="#m8" x="1713.3" y="1108.7"/>
<use href="#m8" x="1724.4" y="1074.0"/>
<use href="#m8" x="1735.5" y="1078.4"/>
<use href="#m8" x="1746.6" y="1146.5"/>
<use href="#m8" x="1757.6" y="1168.6"/>
<use href="#m8" x="1768.7" y="1160.4"/>
<use href="#m8" x="1779.8" y="1140.8"/>
<use href="#m8" x="1790.8" y="1104.3"/>
<use href="#m8" x="1801.9" y="1066.4"/>
<use href="#m8" x="1813.0" y="1075.3"/>
<use href="#m8" x="1824.1" y="1143.4"/>
<use href="#m8" x="1835.1" y="1174.3"/>
<use href="#m8" x="1846.2" y="1162.9"/>
<use href="#m8" x="1857.3" y="1135.2"/>
<use href="#m8" x="1868.3" y="1102.4"/>
<use href="#m8" x="1879.4" y="1083.5"/>
<use href="#m8" x="1890.5" y="1084.1"/>
<use href="#m8" x="1901.6" y="1138.3"/>
<use href="#m8" x="1912.6" y="1183.1"/>
<use href="#m8" x="1923.7" y="1171.1"/>
<use href="#m8" x="1934.8" y="1138.3"/>
<use href="#m8" x="1945.8" y="1119.4"/>
<use href="#m8" x="1956.9" y="1108.7"/>
<use href="#m8" x="1968.0" y="1095.4"/>
<use href="#m8" x="1979.1" y="1121.3"/>
<use href="#m8" x="1990.1" y="1181.2"/>
<use href="#m8" x="2001.2" y="1178.7"/>
<use href="#m8" x="2012.3" y="1152.2"/>
<use href="#m8" x="2023.4" y="1121.3"/>
<use href="#m8" x="2034.4" y="1098.6"/>
<use href="#m8" x="2045.5" y="1092.3"/>
<use href="#m8" x="2056.6" y="1094.2"/>
<use href="#m8" x="2067.6" y="1152.2"/>
<use href="#m8" x="2078.7" y="1178.7"/>
<use href="#m8" x="2089.8" y="1169.2"/>
<use href="#m8" x="2100.9" y="1135.2"/>
<use href="#m8" x="2111.9" y="1102.4"/>
<use href="#m8" x="2123.0" y="1082.8"/>
<use href="#m8" x="2134.1" y="1078.4"/>
<use href="#m8" x="2145.1" y="1111.8"/>
<use href="#m8" x="2156.2" y="1171.1"/>
<use href="#m8" x="2167.3" y="1164.2"/>
<use href="#m8" x="2178.4" y="1145.3"/>
</g>
<path d="M185.4,1198.9 196.5,1176.8 207.5,1159.1 218.6,1142.7 229.7,1120.7 240.8,1103.0 251.8,1080.9 262.9,1064.5 274.0,1041.8 285.0,1024.2 296.1,1008.4 307.2,985.7 318.3,963.0 329.3,946.6 340.4,923.9 351.5,901.2 362.6,877.8 373.6,855.1 384.7,832.4 395.8,802.8 406.8,779.5 417.9,761.8 429.0,758.6 440.1,751.7 451.1,722.1 462.2,703.8 473.3,693.0 484.3,675.4 495.4,657.7 506.5,633.8 517.6,609.8 528.6,585.8 539.7,555.6 550.8,531.6 561.8,501.9 572.9,483.7 584.0,466.6 595.1,454.6 606.1,431.3 617.2,401.0 628.3,363.8 639.4,344.3 650.4,318.4 661.5,291.3 672.6,278.0 683.6,277.4 694.7,282.5 705.8,281.8 716.9,280.6 727.9,266.7 739.0,252.8 750.1,233.9 761.1,215.0 772.2,215.0 783.3,221.3 794.4,221.3 805.4,215.0 816.5,202.4 827.6,189.8 838.6,170.8 849.7,165.2 860.8,171.5 871.9,177.8 882.9,177.8 894.0,177.8 905.1,165.2 916.2,152.5 927.2,139.9 938.3,146.2 949.4,158.8 960.4,165.2 971.5,165.2 982.6,165.2 993.7,152.5 1004.7,139.9 1015.8,139.9 1026.9,152.5 1037.9,165.2 1049.0,171.5 1060.1,165.2 1071.2,158.8 1082.2,152.5 1093.3,139.9 1104.4,146.2 1115.4,165.2 1126.5,165.2 1137.6,165.2 1148.7,165.2 1159.7,152.5 1170.8,139.9 1181.9,133.6 1193.0,146.2 1204.0,158.8 1215.1,165.2 1226.2,165.2 1237.2,158.8 1248.3,152.5 1259.4,133.6 1270.5,133.6 1281.5,152.5 1292.6,165.2 1303.7,171.5 1314.7,171.5 1325.8,165.2 1336.9,152.5 1348.0,139.9 1359.0,139.9 1370.1,158.8 1381.2,165.2 1392.2,165.2 1403.3,165.2 1414.4,158.8 1425.5,146.2 1436.5,139.9 1447.6,152.5 1458.7,165.2 1469.8,171.5 1480.8,171.5 1491.9,165.2 1503.0,152.5 1514.0,139.9 1525.1,152.5 1536.2,165.2 1547.3,171.5 1558.3,171.5 1569.4,165.2 1580.5,152.5 1591.5,146.2 1602.6,146.2 1613.7,165.2 1624.8,171.5 1635.8,177.8 1646.9,171.5 1658.0,165.2 1669.0,152.5 1680.1,146.2 1691.2,158.8 1702.3,177.8 1713.3,177.8 1724.4,177.8 1735.5,171.5 1746.6,165.2 1757.6,152.5 1768.7,152.5 1779.8,171.5 1790.8,177.8 1801.9,184.1 1813.0,177.8 1824.1,171.5 1835.1,158.8 1846.2,152.5 1857.3,165.2 1868.3,177.8 1879.4,184.1 1890.5,184.1 1901.6,177.8 1912.6,165.2 1923.7,152.5 1934.8,158.8 1945.8,177.8 1956.9,184.1 1968.0,190.4 1979.1,184.1 1990.1,177.8 2001.2,165.2 2012.3,158.8 2023.4,171.5 2034.4,184.1 2045.5,190.4 2056.6,190.4 2067.6,184.1 2078.7,171.5 2089.8,165.2 2100.9,165.2 2111.9,184.1 2123.0,196.7 2134.1,196.7 2145.1,190.4 2156.2,177.8 2167.3,171.5 2178.4,165.2" fill="none" stroke="#FB6501" stroke-width="1.6" stroke-linejoin="round"/>
<g fill="#FB6501">
<use href="#m9" x="185.4" y="1198.9"/>
<use href="#m9" x="196.5" y="1176.8"/>
<use href="#m9" x="207.5" y="1159.1"/>
<use href="#m9" x="218.6" y="1142.7"/>
<use href="#m9" x="229.7" y="1120.7"/>
<use href="#m9" x="240.8" y="1103.0"/>
<use href="#m9" x="251.8" y="1080.9"/>
<use href="#m9" x="262.9" y="1064.5"/>
<use href="#m9" x="274.0" y="1041.8"/>
<use href="#m9" x="285.0" y="1024.2"/>
<use href="#m9" x="296.1" y="1008.4"/>
<use href="#m9" x="307.2" y="985.7"/>
<use href="#m9" x="318.3" y="963.0"/>
<use href="#m9" x="329.3" y="946.6"/>
<use href="#m9" x="340.4" y="923.9"/>
<use href="#m9" x="351.5" y="901.2"/>
<use href="#m9" x="362.6" y="877.8"/>
<use href="#m9" x="373.6" y="855.1"/>
<use href="#m9" x="384.7" y="832.4"/>
<use href="#m9" x="395.8" y="802.8"/>
<use href="#m9" x="406.8" y="779.5"/>
<use href="#m9" x="417.9" y="761.8"/>
<use href="#m9" x="429.0" y="758.6"/>
<use href="#m9" x="440.1" y="751.7"/>
<use href="#m9" x="451.1" y="722.1"/>
<use href="#m9" x="462.2" y="703.8"/>
<use href="#m9" x="473.3" y="693.0"/>
<use href="#m9" x="484.3" y="675.4"/>
<use href="#m9" x="495.4" y="657.7"/>
<use href="#m9" x="506.5" y="633.8"/>
<use href="#m9" x="517.6" y="609.8"/>
<use href="#m9" x="528.6" y="585.8"/>
<use href="#m9" x="539.7" y="555.6"/>
<use href="#m9" x="550.8" y="531.6"/>
<use href="#m9" x="561.8" y="501.9"/>
<use href="#m9" x="572.9" y="483.7"/>
<use href="#m9" x="584.0" y="466.6"/>
<use href="#m9" x="595.1" y="454.6"/>
<use href="#m9" x="606.1" y="431.3"/>
<use href="#m9" x="617.2" y="401.0"/>
<use href="#m9" x="628.3" y="363.8"/>
<use href="#m9" x="639.4" y="344.3"/>
<use href="#m9" x="650.4" y="318.4"/>
<use href="#m9" x="661.5" y="291.3"/>
<use href="#m9" x="672.6" y="278.0"/>
<use href="#m9" x="683.6" y="277.4"/>
<use href="#m9" x="694.7" y="282.5"/>
<use href="#m9" x="705.8" y="281.8"/>
<use href="#m9" x="716.9" y="280.6"/>
<use href="#m9" x="727.9" y="266.7"/>
<use href="#m9" x="739.0" y="252.8"/>
<use href="#m9" x="750.1" y="233.9"/>
<use href="#m9" x="761.1" y="215.0"/>
<use href="#m9" x="772.2" y="215.0"/>
<use href="#m9" x="783.3" y="221.3"/>
<use href="#m9" x="794.4" y="221.3"/>
<use href="#m9" x="805.4" y="215.0"/>
<use href="#m9" x="816.5" y="202.4"/>
<use href="#m9" x="827.6" y="189.8"/>
<use href="#m9" x="838.6" y="170.8"/>
<use href="#m9" x="849.7" y="165.2"/>
<use href="#m9" x="860.8" y="171.5"/>
<use href="#m9" x="871.9" y="177.8"/>
<use href="#m9" x="882.9" y="177.8"/>
<use href="#m9" x="894.0" y="177.8"/>
<use href="#m9" x="905.1" y="165.2"/>
<use href="#m9" x="916.2" y="152.5"/>
<use href="#m9" x="927.2" y="139.9"/>
<use href="#m9" x="938.3" y="146.2"/>
<use href="#m9" x="949.4" y="158.8"/>
<use href="#m9" x="960.4" y="165.2"/>
<use href="#m9" x="971.5" y="165.2"/>
<use href="#m9" x="982.6" y="165.2"/>
<use href="#m9" x="993.7" y="152.5"/>
<use href="#m9" x="1004.7" y="139.9"/>
<use href="#m9" x="1015.8" y="139.9"/>
<use href="#m9" x="1026.9" y="152.5"/>
<use href="#m9" x="1037.9" y="165.2"/>
<use href="#m9" x="1049.0" y="171.5"/>
<use href="#m9" x="1060.1" y="165.2"/>
<use href="#m9" x="1071.2" y="158.8"/>
<use href="#m9" x="1082.2" y="152.5"/>
<use href="#m9" x="1093.3" y="139.9"/>
<use href="#m9" x="1104.4" y="146.2"/>
<use href="#m9" x="1115.4" y="165.2"/>
<use href="#m9" x="1126.5" y="165.2"/>
<use href="#m9" x="1137.6" y="165.2"/>
<use href="#m9" x="1148.7" y="165.2"/>
<use href="#m9" x="1159.7" y="152.5"/>
<use href="#m9" x="1170.8" y="139.9"/>
<use href="#m9" x="1181.9" y="133.6"/>
<use href="#m9" x="1193.0" y="146.2"/>
<use href="#m9" x="1204.0" y="158.8"/>
<use href="#m9" x="1215.1" y="165.2"/>
<use href="#m9" x="1226.2" y="165.2"/>
<use href="#m9" x="1237.2" y="158.8"/>
<use href="#m9" x="1248.3" y="152.5"/>
<use href="#m9" x="1259.4" y="133.6"/>
<use href="#m9" x="1270.5" y="133.6"/>
<use href="#m9" x="1281.5" y="152.5"/>
<use href="#m9" x="1292.6" y="165.2"/>
<use href="#m9" x="1303.7" y="171.5"/>
<use href="#m9" x="1314.7" y="171.5"/>
<use href="#m9" x="1325.8" y="165.2"/>
<use href="#m9" x="1336.9" y="152.5"/>
<use href="#m9" x="1348.0" y="139.9"/>
<use href="#m9" x="1359.0" y="139.9"/>
<use href="#m9" x="1370.1" y="158.8"/>
<use href="#m9" x="1381.2" y="165.2"/>
<use href="#m9" x="1392.2" y="165.2"/>
<use href="#m9" x="1403.3" y="165.2"/>
<use href="#m9" x="1414.4" y="158.8"/>
<use href="#m9" x="1425.5" y="146.2"/>
<use href="#m9" x="1436.5" y="139.9"/>
<use href="#m9" x="1447.6" y="152.5"/>
<use href="#m9" x="1458.7" y="165.2"/>
<use href="#m9" x="1469.8" y="171.5"/>
<use href="#m9" x="1480.8" y="171.5"/>
<use href="#m9" x="1491.9" y="165.2"/>
<use href="#m9" x="1503.0" y="152.5"/>
<use href="#m9" x="1514.0" y="139.9"/>
<use href="#m9" x="1525.1" y="152.5"/>
<use href="#m9" x="1536.2" y="165.2"/>
<use href="#m9" x="1547.3" y="171.5"/>
<use href="#m9" x="1558.3" y="171.5"/>
<use href="#m9" x="1569.4" y="165.2"/>
<use href="#m9" x="1580.5" y="152.5"/>
<use href="#m9" x="1591.5" y="146.2"/>
<use href="#m9" x="1602.6" y="146.2"/>
<use href="#m9" x="1613.7" y="165.2"/>
<use href="#m9" x="1624.8" y="171.5"/>
<use href="#m9" x="1635.8" y="177.8"/>
<use href="#m9" x="1646.9" y="171.5"/>
<use href="#m9" x="1658.0" y="165.2"/>
<use href="#m9" x="1669.0" y="152.5"/>
<use href="#m9" x="1680.1" y="146.2"/>
<use href="#m9" x="1691.2" y="158.8"/>
<use href="#m9" x="1702.3" y="177.8"/>
<use href="#m9" x="1713.3" y="177.8"/>
<use href="#m9" x="1724.4" y="177.8"/>
<use href="#m9" x="1735.5" y="171.5"/>
<use href="#m9" x="1746.6" y="165.2"/>
<use href="#m9" x="1757.6" y="152.5"/>
<use href="#m9" x="1768.7" y="152.5"/>
<use href="#m9" x="1779.8" y="171.5"/>
<use href="#m9" x="1790.8" y="177.8"/>
<use href="#m9" x="1801.9" y="184.1"/>
<use href="#m9" x="1813.0" y="177.8"/>
<use href="#m9" x="1824.1" y="171.5"/>
<use href="#m9" x="1835.1" y="158.8"/>
<use href="#m9" x="1846.2" y="152.5"/>
<use href="#m9" x="1857.3" y="165.2"/>
<use href="#m9" x="1868.3" y="177.8"/>
<use href="#m9" x="1879.4" y="184.1"/>
<use href="#m9" x="1890.5" y="184.1"/>
<use href="#m9" x="1901.6" y="177.8"/>
<use href="#m9" x="1912.6" y="165.2"/>
<use href="#m9" x="1923.7" y="152.5"/>
<use href="#m9" x="1934.8" y="158.8"/>
<use href="#m9" x="1945.8" y="177.8"/>
<use href="#m9" x="1956.9" y="184.1"/>
<use href="#m9" x="1968.0" y="190.4"/>
<use href="#m9" x="1979.1" y="184.1"/>
<use href="#m9" x="1990.1" y="177.8"/>
<use href="#m9" x="2001.2" y="165.2"/>
<use href="#m9" x="2012.3" y="158.8"/>
<use href="#m9" x="2023.4" y="171.5"/>
<use href="#m9" x="2034.4" y="184.1"/>
<use href="#m9" x="2045.5" y="190.4"/>
<use href="#m9" x="2056.6" y="190.4"/>
<use href="#m9" x="2067.6" y="184.1"/>
<use href="#m9" x="2078.7" y="171.5"/>
<use href="#m9" x="2089.8" y="165.2"/>
<use href="#m9" x="2100.9" y="165.2"/>
<use href="#m9" x="2111.9" y="184.1"/>
<use href="#m9" x="2123.0" y="196.7"/>
<use href="#m9" x="2134.1" y="196.7"/>
<use href="#m9" x="2145.1" y="190.4"/>
<use href="#m9" x="2156.2" y="177.8"/>
<use href="#m9" x="2167.3" y="171.5"/>
<use href="#m9" x="2178.4" y="165.2"/>
</g>
</g>
<text x="158.5" y="1236.7" font-family="Liberation Serif, serif" font-size="50" text-anchor="end">22</text>
<text x="158.5" y="1110.6" font-family="Liberation Serif, serif" font-size="50" text-anchor="end">24</text>
<text x="158.5" y="984.4" font-family="Liberation Serif, serif" font-size="50" text-anchor="end">26</text>
<text x="158.5" y="858.3" font-family="Liberation Serif, serif" font-size="50" text-anchor="end">28</text>
<text x="158.5" y="732.2" font-family="Liberation Serif, serif" font-size="50" text-anchor="end">30</text>
<text x="158.5" y="606.0" font-family="Liberation Serif, serif" font-size="50" text-anchor="end">32</text>
<text x="158.5" y="479.9" font-family="Liberation Serif, serif" font-size="50" text-anchor="end">34</text>
<text x="158.5" y="353.8" font-family="Liberation Serif, serif" font-size="50" text-anchor="end">36</text>
<text x="158.5" y="227.6" font-family="Liberation Serif, serif" font-size="50" text-anchor="end">38</text>
<text x="158.5" y="101.5" font-family="Liberation Serif, serif" font-size="50" text-anchor="end">40</text>
<text x="185.4" y="1349" font-family="Liberation Serif, serif" font-size="50" text-anchor="middle">0</text>
<text x="406.8" y="1349" font-family="Liberation Serif, serif" font-size="50" text-anchor="middle">20</text>
<text x="628.3" y="1349" font-family="Liberation Serif, serif" font-size="50" text-anchor="middle">40</text>
<text x="849.7" y="1349" font-family="Liberation Serif, serif" font-size="50" text-anchor="middle">60</text>
<text x="1071.2" y="1349" font-family="Liberation Serif, serif" font-size="50" text-anchor="middle">80</text>
<text x="1292.6" y="1349" font-family="Liberation Serif, serif" font-size="50" text-anchor="middle">100</text>
<text x="1514.0" y="1349" font-family="Liberation Serif, serif" font-size="50" text-anchor="middle">120</text>
<text x="1735.5" y="1349" font-family="Liberation Serif, serif" font-size="50" text-anchor="middle">140</text>
<text x="1956.9" y="1349" font-family="Liberation Serif, serif" font-size="50" text-anchor="middle">160</text>
<text x="2178.4" y="1349" font-family="Liberation Serif, serif" font-size="50" text-anchor="middle">180</text>
<text x="1069" y="1463" font-family="Liberation Serif, serif" font-size="50" textLength="233" lengthAdjust="spacingAndGlyphs">Time (min)</text>
<text transform="translate(74.3,839) rotate(-90)" font-family="Liberation Serif, serif" font-size="50" textLength="366" lengthAdjust="spacingAndGlyphs">Temperature (<tspan font-family="DejaVu Serif, serif" font-size="38" dy="-5.5">&#186;</tspan><tspan dy="5.5">C)</tspan></text>
<path d="M251.1,70.2h128.3" stroke="#515151" stroke-width="1.6"/>
<use href="#lm0" x="315.2" y="70.2" fill="#515151"/>
<text x="391.1" y="89" font-family="Liberation Serif, serif" font-size="50" textLength="52.7" lengthAdjust="spacingAndGlyphs">T1</text>
<path d="M444.2,70.2h128.3" stroke="#F14040" stroke-width="1.6"/>
<use href="#lm1" x="508.4" y="70.2" fill="#F14040"/>
<text x="584.2" y="89" font-family="Liberation Serif, serif" font-size="50">T2</text>
<path d="M637.3,70.2h128.3" stroke="#1A6FDF" stroke-width="1.6"/>
<use href="#lm2" x="701.4" y="70.2" fill="#1A6FDF"/>
<text x="777.3" y="89" font-family="Liberation Serif, serif" font-size="50">T3</text>
<path d="M830.4,70.2h128.3" stroke="#37AD6B" stroke-width="1.6"/>
<use href="#lm3" x="894.5" y="70.2" fill="#37AD6B"/>
<text x="970.4" y="89" font-family="Liberation Serif, serif" font-size="50">T4</text>
<path d="M1023.5,70.2h128.3" stroke="#B177DE" stroke-width="1.6"/>
<use href="#lm4" x="1087.7" y="70.2" fill="#B177DE"/>
<text x="1163.5" y="89" font-family="Liberation Serif, serif" font-size="50">T5</text>
<path d="M1216.6,70.2h128.3" stroke="#CC9900" stroke-width="1.6"/>
<use href="#lm5" x="1280.8" y="70.2" fill="#CC9900"/>
<text x="1356.6" y="89" font-family="Liberation Serif, serif" font-size="50">T6</text>
<path d="M1409.7,70.2h128.3" stroke="#00CBCC" stroke-width="1.6"/>
<use href="#lm6" x="1473.8" y="70.2" fill="#00CBCC"/>
<text x="1549.7" y="89" font-family="Liberation Serif, serif" font-size="50">T7</text>
<path d="M1602.8,70.2h128.3" stroke="#7D4E4E" stroke-width="1.6"/>
<use href="#lm7" x="1667.0" y="70.2" fill="#7D4E4E"/>
<text x="1742.8" y="89" font-family="Liberation Serif, serif" font-size="50">T8</text>
<path d="M1795.9,70.2h128.3" stroke="#8E8E00" stroke-width="1.6"/>
<use href="#lm8" x="1860.0" y="70.2" fill="#8E8E00"/>
<text x="1935.9" y="89" font-family="Liberation Serif, serif" font-size="50">T9</text>
<path d="M1989.0,70.2h128.3" stroke="#FB6501" stroke-width="1.6"/>
<use href="#lm9" x="2053.1" y="70.2" fill="#FB6501"/>
<text x="2129.0" y="89" font-family="Liberation Serif, serif" font-size="50">T10</text>
</svg>
</body></html>
